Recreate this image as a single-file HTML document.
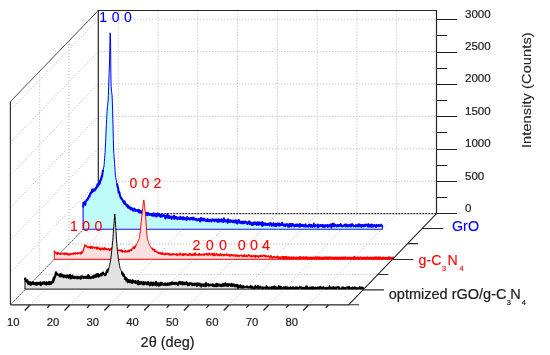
<!DOCTYPE html>
<html><head><meta charset="utf-8"><title>XRD waterfall</title>
<style>html,body{margin:0;padding:0;background:#fff;}body{width:550px;height:355px;overflow:hidden;}svg{display:block;}</style>
</head><body><svg width="550" height="355" viewBox="0 0 550 355"><path d="M118.19 10.6V213.7M157.98 10.6V213.7M197.77 10.6V213.7M237.56 10.6V213.7M277.35 10.6V213.7M317.14 10.6V213.7M356.92 10.6V213.7M396.71 10.6V213.7M98.3 181.27H436.5M98.3 148.84H436.5M98.3 116.41H436.5M98.3 83.98H436.5M98.3 51.55H436.5M98.3 19.12H436.5M69 40.97V244.07M39.7 71.33V274.43M98.3 181.27L10.4 272.37M98.3 148.84L10.4 239.94M98.3 116.41L10.4 207.51M98.3 83.98L10.4 175.08M98.3 51.55L10.4 142.65M98.3 19.12L10.4 110.22M118.19 213.7L30.29 304.8M157.98 213.7L70.08 304.8M197.77 213.7L109.87 304.8M237.56 213.7L149.66 304.8M277.35 213.7L189.45 304.8M317.14 213.7L229.24 304.8M356.92 213.7L269.02 304.8M396.71 213.7L308.81 304.8M69 244.07H407.2M39.7 274.43H377.9" fill="none" stroke="#b4b4b4" stroke-width="1" stroke-dasharray="1 2"/><path d="M98.3 213.7H436.5" stroke="#2e2e2e" stroke-width="1.3" stroke-dasharray="2 1" fill="none"/><path d="M98.3 213.7V10.5H436.5V213.7" fill="none" stroke="#262626" stroke-width="1.2"/><path d="M98.3 10.5L10.4 101.6" fill="none" stroke="#484848" stroke-width="1.0"/><path d="M10.4 101.6V304.8" fill="none" stroke="#333" stroke-width="1.2"/><path d="M98.3 213.7L10.4 304.8" fill="none" stroke="#555" stroke-width="1" stroke-dasharray="2.2 0.8"/><path d="M83.1 229.2 L83.1 206.63 83.35 202.88 83.6 204.8 83.85 203.76 84.1 203.54 84.35 203.41 84.6 201.76 84.85 202.79 85.1 202.01 85.35 204.85 85.6 202.22 85.85 201.48 86.1 201.23 86.35 200.61 86.6 199.85 86.85 199.89 87.1 200.08 87.35 199.08 87.6 199.51 87.85 198.18 88.1 197.89 88.35 198.56 88.6 197.35 88.85 196.1 89.1 195.88 89.35 195.96 89.6 196.54 89.85 194.43 90.1 193.98 90.35 194.45 90.6 192.58 90.85 192.56 91.1 193.08 91.35 192.64 91.6 192.07 91.85 192.3 92.1 189.47 92.35 192.15 92.6 190.45 92.85 189.71 93.1 190.96 93.35 191.08 93.6 190.01 93.85 189.33 94.1 189.95 94.35 189.68 94.6 190.57 94.85 189.87 95.1 189.24 95.35 189.72 95.6 188.53 95.85 187.7 96.1 188.49 96.35 188.14 96.6 187.2 96.85 186.43 97.1 186.85 97.35 184.46 97.6 186.51 97.85 186.01 98.1 184.07 98.35 185 98.6 183.89 98.85 184.84 99.1 182.4 99.35 182.9 99.6 183.77 99.85 183.5 100.1 180.25 100.35 180.72 100.6 180.57 100.85 179.09 101.1 179.97 101.35 177.11 101.6 177.5 101.85 175.68 102.1 176.55 102.35 174.23 102.6 172.72 102.85 170.46 103.1 170.84 103.35 169.4 103.6 168.15 103.85 166.98 104.1 164.84 104.35 161.56 104.6 158.46 104.85 155.38 105.1 152.74 105.35 148.46 105.6 142.38 105.85 136.19 106.1 130.04 106.35 124.27 106.6 119.65 106.85 115.3 107.1 111.4 107.35 107.8 107.6 105.48 107.85 103.15 108.1 100.83 108.35 95.56 108.6 87.95 108.85 81 109.1 73.73 109.35 66.97 109.6 59.98 109.85 45.11 110.1 32.84 110.35 33.89 110.6 42.3 110.85 72.8 111.1 86.44 111.35 89.09 111.6 91.34 111.85 93.88 112.1 95.62 112.35 102.11 112.6 110.21 112.85 119.74 113.1 129.8 113.35 139.84 113.6 150.01 113.85 153.46 114.1 157.08 114.35 159.96 114.6 163.49 114.85 166.86 115.1 171.35 115.35 175.32 115.6 177.32 115.85 178.13 116.1 179.61 116.35 180.79 116.6 182.56 116.85 183.64 117.1 184.3 117.35 185.22 117.6 186.95 117.85 187.09 118.1 187.95 118.35 190.03 118.6 192.55 118.85 191.34 119.1 191.94 119.35 192.31 119.6 193.02 119.85 195.24 120.1 196.32 120.35 196.51 120.6 197.59 120.85 198.16 121.1 198.52 121.35 197.61 121.6 198.76 121.85 199.53 122.1 199.21 122.35 199.78 122.6 199.87 122.85 200.58 123.1 201.81 123.35 201.21 123.6 201.75 123.85 202.74 124.1 202.84 124.35 203.85 124.6 201.24 124.85 203.67 125.1 202.89 125.35 203.58 125.6 204.33 125.85 204.74 126.1 204.93 126.35 204.49 126.6 205.8 126.85 204.61 127.1 204.94 127.35 205.87 127.6 205.08 127.85 207.33 128.1 206.7 128.35 207.79 128.6 206.36 128.85 206.32 129.1 206.96 129.35 207.61 129.6 206.84 129.85 207.79 130.1 207.71 130.35 209.16 130.6 207.68 130.85 209.18 131.1 208.14 131.35 208.1 131.6 208.38 131.85 208.11 132.1 209.2 132.35 209.95 132.6 209.39 132.85 209.83 133.1 210.67 133.35 209.74 133.6 209.77 133.85 209.51 134.1 208.6 134.35 210.47 134.6 208.67 134.85 210.57 135.1 210.16 135.35 211.1 135.6 210.3 135.85 209.82 136.1 210.79 136.35 210.2 136.6 210.57 136.85 210.83 137.1 210.79 137.35 210.83 137.6 210.44 137.85 211.01 138.1 209.64 138.35 211.22 138.6 210.53 138.85 212.36 139.1 212.56 139.35 210.23 139.6 211.89 139.85 211.78 140.1 211.18 140.35 212.45 140.6 211.8 140.85 210.91 141.1 212.12 141.35 212.3 141.6 212.58 141.85 211.67 142.1 213.15 142.35 213.33 142.6 212 142.85 212.43 143.1 212.9 143.35 212.58 143.6 214.35 143.85 213.23 144.1 212.36 144.35 212.56 144.6 213.15 144.85 214.95 145.1 213.13 145.35 213.4 145.6 213.73 145.85 213.35 146.1 215.13 146.35 213.06 146.6 214.06 146.85 213.66 147.1 214.04 147.35 212.73 147.6 214.98 147.85 213.6 148.1 213.75 148.35 213.07 148.6 213.26 148.85 214.27 149.1 214.62 149.35 214.48 149.6 214.87 149.85 214.53 150.1 214.06 150.35 214.7 150.6 214.56 150.85 214.07 151.1 214.73 151.35 215.19 151.6 214.44 151.85 214.04 152.1 214.88 152.35 215.81 152.6 214.26 152.85 214.39 153.1 214.39 153.35 215.45 153.6 213.19 153.85 214.88 154.1 215.54 154.35 214.08 154.6 215.84 154.85 215.16 155.1 214.39 155.35 214.99 155.6 213.73 155.85 214.49 156.1 216.33 156.35 214.32 156.6 216.42 156.85 215.01 157.1 215.85 157.35 215.18 157.6 213.5 157.85 214.79 158.1 215.4 158.35 214.44 158.6 214.33 158.85 215.65 159.1 214.93 159.35 214.18 159.6 214.97 159.85 216.17 160.1 215.2 160.35 216.3 160.6 216.78 160.85 215.69 161.1 214.86 161.35 214.77 161.6 215.76 161.85 216.48 162.1 216.05 162.35 216.3 162.6 215.59 162.85 216.19 163.1 215.64 163.35 215.79 163.6 215.1 163.85 214.93 164.1 215.78 164.35 215.35 164.6 215.5 164.85 216.75 165.1 216.21 165.35 218.51 165.6 217.05 165.85 215.92 166.1 217.02 166.35 216.74 166.6 215.99 166.85 217.37 167.1 216 167.35 214.32 167.6 217.25 167.85 216.22 168.1 217.84 168.35 216.27 168.6 215.91 168.85 217.99 169.1 216.06 169.35 217.06 169.6 218.03 169.85 217.06 170.1 216.95 170.35 217.13 170.6 217.72 170.85 216.52 171.1 217.62 171.35 217.63 171.6 218.98 171.85 217.02 172.1 216.62 172.35 217.89 172.6 217.08 172.85 217.63 173.1 217.55 173.35 218.36 173.6 217.03 173.85 217.49 174.1 215.68 174.35 216.97 174.6 218.82 174.85 217.19 175.1 217.22 175.35 216.86 175.6 218.24 175.85 217.95 176.1 216.94 176.35 218.35 176.6 218.06 176.85 218.44 177.1 217.41 177.35 219.21 177.6 218.22 177.85 217.84 178.1 217.55 178.35 217.77 178.6 218.62 178.85 217.78 179.1 218.81 179.35 218.45 179.6 219.04 179.85 218.65 180.1 218.01 180.35 216.64 180.6 218.31 180.85 218.69 181.1 218.23 181.35 218.54 181.6 217.78 181.85 217.86 182.1 217.46 182.35 219.2 182.6 218.31 182.85 217.84 183.1 217.22 183.35 218.12 183.6 219.33 183.85 218.61 184.1 217.73 184.35 219.36 184.6 219.37 184.85 219.05 185.1 218.92 185.35 219.21 185.6 218.76 185.85 218.95 186.1 217.8 186.35 219.52 186.6 218.59 186.85 219.94 187.1 216.91 187.35 218.98 187.6 219.2 187.85 218.22 188.1 218.83 188.35 219.07 188.6 218.96 188.85 218.13 189.1 218.44 189.35 219.33 189.6 219.54 189.85 218.67 190.1 218.67 190.35 218.79 190.6 219.44 190.85 217.9 191.1 217.72 191.35 218.84 191.6 217.94 191.85 218.36 192.1 218.89 192.35 219.21 192.6 218.07 192.85 219.51 193.1 217.6 193.35 219.37 193.6 217.8 193.85 218.06 194.1 219.52 194.35 218.76 194.6 218.5 194.85 218.79 195.1 219.5 195.35 219.13 195.6 219.18 195.85 220.02 196.1 218.72 196.35 218.93 196.6 218.92 196.85 220.21 197.1 220.1 197.35 220.35 197.6 219.39 197.85 219.32 198.1 220.11 198.35 219.2 198.6 220.13 198.85 220.06 199.1 219.01 199.35 219.48 199.6 219.47 199.85 220.87 200.1 221.52 200.35 219.52 200.6 219.61 200.85 217.91 201.1 219.79 201.35 219.63 201.6 218.85 201.85 220.25 202.1 218.5 202.35 219.53 202.6 219.8 202.85 218.77 203.1 220.37 203.35 220.53 203.6 218.71 203.85 218.7 204.1 220.22 204.35 219.76 204.6 218.89 204.85 219.58 205.1 219.74 205.35 219.72 205.6 220.46 205.85 220.14 206.1 221.19 206.35 220.91 206.6 220.4 206.85 220.71 207.1 220.91 207.35 220.45 207.6 219.02 207.85 220.59 208.1 220.01 208.35 221.19 208.6 220.05 208.85 220.39 209.1 220.26 209.35 221.28 209.6 220.16 209.85 219.84 210.1 220.29 210.35 219.74 210.6 220.2 210.85 220.09 211.1 220.31 211.35 221.56 211.6 219.82 211.85 220.17 212.1 220 212.35 220.67 212.6 219.29 212.85 219.67 213.1 220.17 213.35 220.62 213.6 220.19 213.85 219.86 214.1 219.6 214.35 220.64 214.6 221.35 214.85 220.52 215.1 220.43 215.35 220.64 215.6 219.61 215.85 220.09 216.1 220.14 216.35 220.57 216.6 220.34 216.85 219.46 217.1 221.23 217.35 221.67 217.6 220.21 217.85 220.72 218.1 220.64 218.35 221.04 218.6 219.35 218.85 221.68 219.1 220.13 219.35 221.44 219.6 220.57 219.85 220.23 220.1 220.42 220.35 221.21 220.6 219.91 220.85 220.28 221.1 220.22 221.35 219.3 221.6 221.58 221.85 221.05 222.1 220.61 222.35 221.51 222.6 219.93 222.85 220.61 223.1 221.97 223.35 221.42 223.6 219.03 223.85 218.21 224.1 219.94 224.35 221.53 224.6 220.39 224.85 220.59 225.1 221.22 225.35 220.12 225.6 220.95 225.85 221.4 226.1 221.17 226.35 221.12 226.6 220.39 226.85 221.24 227.1 220.54 227.35 221.85 227.6 222.81 227.85 220.34 228.1 219.28 228.35 220.6 228.6 221.22 228.85 221.73 229.1 221.77 229.35 220.38 229.6 220.39 229.85 221.94 230.1 220.19 230.35 221.85 230.6 220.89 230.85 221.66 231.1 221.64 231.35 221.72 231.6 221.78 231.85 220.44 232.1 221.43 232.35 221.25 232.6 221.49 232.85 222.21 233.1 221.11 233.35 220.8 233.6 220.81 233.85 221.15 234.1 221.97 234.35 220.82 234.6 222.33 234.85 221.7 235.1 221.34 235.35 220.54 235.6 221.74 235.85 222.1 236.1 220.29 236.35 222.53 236.6 222.9 236.85 221.94 237.1 222.08 237.35 223.55 237.6 222.68 237.85 221.11 238.1 221.8 238.35 221.72 238.6 221.75 238.85 220.11 239.1 222.48 239.35 221.46 239.6 222.08 239.85 221.88 240.1 222.66 240.35 221.81 240.6 221.46 240.85 222.48 241.1 223.16 241.35 221.9 241.6 223.19 241.85 222.38 242.1 221.81 242.35 223.38 242.6 221.65 242.85 223.05 243.1 221.94 243.35 222.67 243.6 221.43 243.85 221.76 244.1 223.21 244.35 222.58 244.6 222.49 244.85 222.16 245.1 222.84 245.35 221.49 245.6 221.72 245.85 222.47 246.1 221.98 246.35 222.11 246.6 222.61 246.85 222.58 247.1 222.54 247.35 223.98 247.6 223.52 247.85 223.71 248.1 222.79 248.35 222.46 248.6 221.77 248.85 222.62 249.1 221.35 249.35 222.5 249.6 223.53 249.85 224.2 250.1 223.73 250.35 222.39 250.6 223.43 250.85 222.49 251.1 223.73 251.35 223.05 251.6 223.8 251.85 225.11 252.1 223.9 252.35 224.98 252.6 223.39 252.85 223.04 253.1 224.31 253.35 224.63 253.6 222.94 253.85 223.44 254.1 222.33 254.35 223.28 254.6 224.13 254.85 223.42 255.1 223.08 255.35 222.48 255.6 223.84 255.85 224.18 256.1 224.06 256.35 223.83 256.6 222.7 256.85 225.01 257.1 223.67 257.35 223.63 257.6 224.31 257.85 222.16 258.1 223.76 258.35 223.73 258.6 224.14 258.85 224.9 259.1 224.26 259.35 222.56 259.6 223.71 259.85 224.14 260.1 224.11 260.35 223.05 260.6 222.78 260.85 224.45 261.1 224.3 261.35 224.04 261.6 222.77 261.85 225.4 262.1 221.91 262.35 223.82 262.6 225.67 262.85 224 263.1 224.3 263.35 223.25 263.6 225.16 263.85 223.18 264.1 224.35 264.35 224.28 264.6 223.4 264.85 224.86 265.1 223.14 265.35 223.7 265.6 224.2 265.85 223.92 266.1 224.59 266.35 224.95 266.6 224.04 266.85 223.87 267.1 223.9 267.35 224.02 267.6 224.91 267.85 224.15 268.1 224.63 268.35 224.27 268.6 223.71 268.85 225 269.1 223.59 269.35 224.38 269.6 225.5 269.85 223.57 270.1 224.36 270.35 223.23 270.6 224.04 270.85 223.31 271.1 224.17 271.35 224.05 271.6 224.56 271.85 225.66 272.1 224.7 272.35 224.99 272.6 224.47 272.85 224.33 273.1 223.9 273.35 223.18 273.6 224.6 273.85 225.78 274.1 224.92 274.35 224.17 274.6 225.82 274.85 224.27 275.1 224.14 275.35 223.7 275.6 223.9 275.85 224.45 276.1 226.14 276.35 224.5 276.6 223.89 276.85 224.22 277.1 224.52 277.35 223.41 277.6 224.8 277.85 225.24 278.1 224.96 278.35 225.18 278.6 223.78 278.85 223.48 279.1 225.73 279.35 225.59 279.6 223.63 279.85 224.95 280.1 224.82 280.35 225.22 280.6 224.98 280.85 224.46 281.1 224.99 281.35 224.97 281.6 224.83 281.85 223.48 282.1 222.64 282.35 224.3 282.6 223.68 282.85 225.1 283.1 225.46 283.35 225.13 283.6 224.67 283.85 225.01 284.1 225.84 284.35 224.43 284.6 225.68 284.85 225.52 285.1 225.2 285.35 226.1 285.6 224.49 285.85 225.74 286.1 224.35 286.35 224.48 286.6 224.27 286.85 225.41 287.1 224.38 287.35 225.13 287.6 224.25 287.85 225.91 288.1 226.5 288.35 225.3 288.6 226.38 288.85 225.57 289.1 226.79 289.35 225.25 289.6 224.01 289.85 226.31 290.1 225.11 290.35 224.44 290.6 224.73 290.85 224.01 291.1 225.12 291.35 224.45 291.6 226.38 291.85 225.77 292.1 224.04 292.35 224.16 292.6 224.88 292.85 223.87 293.1 225.24 293.35 225.3 293.6 224.76 293.85 224.94 294.1 225.74 294.35 226.44 294.6 226.51 294.85 225.42 295.1 226.05 295.35 224.86 295.6 225.73 295.85 224.71 296.1 225.99 296.35 224.53 296.6 224.74 296.85 225.47 297.1 225.9 297.35 224.42 297.6 225.1 297.85 225.62 298.1 225.7 298.35 224.9 298.6 225.62 298.85 225.35 299.1 226.62 299.35 225.99 299.6 224.59 299.85 223.94 300.1 225.67 300.35 226.49 300.6 225.73 300.85 226.26 301.1 225.24 301.35 224.58 301.6 226.16 301.85 225.67 302.1 226.11 302.35 224.56 302.6 225.74 302.85 225.13 303.1 226.2 303.35 225.16 303.6 225.14 303.85 225.16 304.1 226.55 304.35 225.62 304.6 225.03 304.85 224.83 305.1 224.82 305.35 226.7 305.6 224.24 305.85 224.96 306.1 226.08 306.35 226.48 306.6 225.49 306.85 226.19 307.1 226.17 307.35 226.34 307.6 225.63 307.85 226.84 308.1 225.76 308.35 226.76 308.6 224.79 308.85 226.32 309.1 224.67 309.35 224.49 309.6 225.99 309.85 225 310.1 225.96 310.35 224.82 310.6 226.83 310.85 225.63 311.1 224.78 311.35 225.76 311.6 226.29 311.85 225.05 312.1 226.02 312.35 227.17 312.6 226.29 312.85 225.63 313.1 225.21 313.35 226.07 313.6 224.5 313.85 223.36 314.1 225.14 314.35 224.83 314.6 226.95 314.85 225.75 315.1 224.9 315.35 224.77 315.6 226.02 315.85 225.02 316.1 225.21 316.35 225.58 316.6 225.71 316.85 225.72 317.1 225.73 317.35 226.63 317.6 226.93 317.85 224.41 318.1 227.58 318.35 225.75 318.6 226.59 318.85 225.1 319.1 225.9 319.35 225.82 319.6 225.74 319.85 226.29 320.1 226.13 320.35 224.9 320.6 225.57 320.85 226.2 321.1 226.17 321.35 225.4 321.6 225.45 321.85 225.54 322.1 224.83 322.35 224.69 322.6 226.83 322.85 225.36 323.1 225.73 323.35 225.1 323.6 226.63 323.85 226.97 324.1 225.49 324.35 226.04 324.6 225.09 324.85 226.98 325.1 226.35 325.35 225.03 325.6 226.59 325.85 225.93 326.1 225.97 326.35 225.92 326.6 225.15 326.85 225.25 327.1 226.12 327.35 225.62 327.6 224.94 327.85 227.18 328.1 225.5 328.35 225.23 328.6 225.13 328.85 226.17 329.1 226.38 329.35 225.84 329.6 226.3 329.85 224.53 330.1 225.37 330.35 225.3 330.6 225.65 330.85 226.02 331.1 224.12 331.35 227.99 331.6 225 331.85 225.91 332.1 226.27 332.35 226.28 332.6 225.83 332.85 223.46 333.1 224.83 333.35 226.21 333.6 224.95 333.85 224.85 334.1 223.87 334.35 226.55 334.6 226.02 334.85 224.96 335.1 225.53 335.35 225.55 335.6 224.79 335.85 225.42 336.1 225.82 336.35 226.04 336.6 226.57 336.85 225.64 337.1 225.27 337.35 225.92 337.6 225.15 337.85 224.68 338.1 226.47 338.35 225.33 338.6 225.71 338.85 226.1 339.1 224.78 339.35 226.1 339.6 225.95 339.85 225.54 340.1 225.91 340.35 225.05 340.6 223.96 340.85 225.4 341.1 224.93 341.35 226.27 341.6 225.81 341.85 225.22 342.1 225.65 342.35 226.63 342.6 226.46 342.85 225.89 343.1 225.94 343.35 225.4 343.6 225.52 343.85 226.06 344.1 225.52 344.35 225.84 344.6 224.78 344.85 224.36 345.1 224.34 345.35 225.28 345.6 226.61 345.85 226.5 346.1 224.86 346.35 224.44 346.6 226.21 346.85 225.96 347.1 224.59 347.35 226.41 347.6 225.74 347.85 226.6 348.1 225.87 348.35 226.28 348.6 225.85 348.85 224.9 349.1 225.44 349.35 225.1 349.6 226.23 349.85 224.86 350.1 224.46 350.35 226.12 350.6 226.47 350.85 226.69 351.1 226.43 351.35 224.48 351.6 225.09 351.85 225.2 352.1 225.59 352.35 223.99 352.6 225.6 352.85 225.82 353.1 224.9 353.35 225.7 353.6 226.5 353.85 225.64 354.1 226.4 354.35 226.37 354.6 225.92 354.85 225.9 355.1 225.33 355.35 226.54 355.6 225.26 355.85 225.09 356.1 226.14 356.35 225.06 356.6 225.93 356.85 226.4 357.1 225.67 357.35 225.69 357.6 226.3 357.85 226.17 358.1 224.45 358.35 224.63 358.6 226.61 358.85 225.9 359.1 224.05 359.35 224.6 359.6 225.63 359.85 224.88 360.1 225.96 360.35 225.67 360.6 225.98 360.85 224.74 361.1 226.08 361.35 227.08 361.6 225.02 361.85 226.6 362.1 226.35 362.35 226.1 362.6 225.57 362.85 224.74 363.1 224.96 363.35 226.19 363.6 226.35 363.85 226.53 364.1 226.34 364.35 226.29 364.6 225.29 364.85 224.71 365.1 225.77 365.35 225.99 365.6 225.68 365.85 224.48 366.1 225.23 366.35 224.51 366.6 225.73 366.85 224.83 367.1 225.49 367.35 225.86 367.6 225.72 367.85 226.65 368.1 224.79 368.35 223.98 368.6 226.33 368.85 226.67 369.1 226.69 369.35 225.83 369.6 226.03 369.85 225.71 370.1 224.65 370.35 225.19 370.6 225.99 370.85 225.19 371.1 227.05 371.35 224.47 371.6 225.3 371.85 226.46 372.1 225.17 372.35 224.77 372.6 224.6 372.85 225.08 373.1 226.76 373.35 225.93 373.6 226.01 373.85 225.23 374.1 226.26 374.35 225.7 374.6 224.93 374.85 225.29 375.1 225.78 375.35 226.5 375.6 225.58 375.85 226 376.1 227.14 376.35 225.03 376.6 224.69 376.85 226.36 377.1 225.95 377.35 225.55 377.6 225.82 377.85 225.38 378.1 226.01 378.35 225.37 378.6 226.23 378.85 224.75 379.1 225.01 379.35 225.71 379.6 225.27 379.85 226.15 380.1 225.6 380.35 225.22 380.6 225.78 380.85 225.23 381.1 224.46 381.35 224.78 381.6 225.03 381.85 225.28 382.1 225.7 382.35 226.31 L382.35 229.2Z" fill="#bffcf9" stroke="none"/><path d="M83.1 206.63V229.2H382.35V226.31" fill="none" stroke="#1515ff" stroke-width="1.1"/><path d="M83.1 206.63 83.35 202.88 83.6 204.8 83.85 203.76 84.1 203.54 84.35 203.41 84.6 201.76 84.85 202.79 85.1 202.01 85.35 204.85 85.6 202.22 85.85 201.48 86.1 201.23 86.35 200.61 86.6 199.85 86.85 199.89 87.1 200.08 87.35 199.08 87.6 199.51 87.85 198.18 88.1 197.89 88.35 198.56 88.6 197.35 88.85 196.1 89.1 195.88 89.35 195.96 89.6 196.54 89.85 194.43 90.1 193.98 90.35 194.45 90.6 192.58 90.85 192.56 91.1 193.08 91.35 192.64 91.6 192.07 91.85 192.3 92.1 189.47 92.35 192.15 92.6 190.45 92.85 189.71 93.1 190.96 93.35 191.08 93.6 190.01 93.85 189.33 94.1 189.95 94.35 189.68 94.6 190.57 94.85 189.87 95.1 189.24 95.35 189.72 95.6 188.53 95.85 187.7 96.1 188.49 96.35 188.14 96.6 187.2 96.85 186.43 97.1 186.85 97.35 184.46 97.6 186.51 97.85 186.01 98.1 184.07 98.35 185 98.6 183.89 98.85 184.84 99.1 182.4 99.35 182.9 99.6 183.77 99.85 183.5 100.1 180.25 100.35 180.72 100.6 180.57 100.85 179.09 101.1 179.97 101.35 177.11 101.6 177.5 101.85 175.68 102.1 176.55 102.35 174.23 102.6 172.72 102.85 170.46 103.1 170.84" fill="none" stroke="#0000ff" stroke-width="2.0" stroke-linejoin="round" stroke-linecap="round"/><path d="M103.1 170.84 103.35 169.4 103.6 168.15 103.85 166.98 104.1 164.84 104.35 161.56 104.6 158.46 104.85 155.38 105.1 152.74 105.35 148.46 105.6 142.38 105.85 136.19 106.1 130.04 106.35 124.27 106.6 119.65 106.85 115.3 107.1 111.4 107.35 107.8 107.6 105.48 107.85 103.15 108.1 100.83 108.35 95.56 108.6 87.95 108.85 81 109.1 73.73 109.35 66.97 109.6 59.98 109.85 45.11 110.1 32.84 110.35 33.89 110.6 42.3 110.85 72.8 111.1 86.44 111.35 89.09 111.6 91.34 111.85 93.88 112.1 95.62 112.35 102.11 112.6 110.21 112.85 119.74 113.1 129.8 113.35 139.84 113.6 150.01 113.85 153.46 114.1 157.08 114.35 159.96 114.6 163.49 114.85 166.86 115.1 171.35 115.35 175.32 115.6 177.32 115.85 178.13 116.1 179.61 116.35 180.79 116.6 182.56 116.85 183.64 117.1 184.3" fill="none" stroke="#0000ff" stroke-width="1.0" stroke-linejoin="round" stroke-linecap="round"/><path d="M117.1 184.3 117.35 185.22 117.6 186.95 117.85 187.09 118.1 187.95 118.35 190.03 118.6 192.55 118.85 191.34 119.1 191.94 119.35 192.31 119.6 193.02 119.85 195.24 120.1 196.32 120.35 196.51 120.6 197.59 120.85 198.16 121.1 198.52 121.35 197.61 121.6 198.76 121.85 199.53 122.1 199.21 122.35 199.78 122.6 199.87 122.85 200.58 123.1 201.81 123.35 201.21 123.6 201.75 123.85 202.74 124.1 202.84 124.35 203.85 124.6 201.24 124.85 203.67 125.1 202.89 125.35 203.58 125.6 204.33 125.85 204.74 126.1 204.93 126.35 204.49 126.6 205.8 126.85 204.61 127.1 204.94 127.35 205.87 127.6 205.08 127.85 207.33 128.1 206.7 128.35 207.79 128.6 206.36 128.85 206.32 129.1 206.96 129.35 207.61 129.6 206.84 129.85 207.79 130.1 207.71 130.35 209.16 130.6 207.68 130.85 209.18 131.1 208.14 131.35 208.1 131.6 208.38 131.85 208.11 132.1 209.2 132.35 209.95 132.6 209.39 132.85 209.83 133.1 210.67 133.35 209.74 133.6 209.77 133.85 209.51 134.1 208.6 134.35 210.47 134.6 208.67 134.85 210.57 135.1 210.16 135.35 211.1 135.6 210.3 135.85 209.82 136.1 210.79 136.35 210.2 136.6 210.57 136.85 210.83 137.1 210.79 137.35 210.83 137.6 210.44 137.85 211.01 138.1 209.64 138.35 211.22 138.6 210.53 138.85 212.36 139.1 212.56 139.35 210.23 139.6 211.89 139.85 211.78 140.1 211.18 140.35 212.45 140.6 211.8 140.85 210.91 141.1 212.12 141.35 212.3 141.6 212.58 141.85 211.67 142.1 213.15 142.35 213.33 142.6 212 142.85 212.43 143.1 212.9 143.35 212.58 143.6 214.35 143.85 213.23 144.1 212.36 144.35 212.56 144.6 213.15 144.85 214.95 145.1 213.13 145.35 213.4 145.6 213.73 145.85 213.35 146.1 215.13 146.35 213.06 146.6 214.06 146.85 213.66 147.1 214.04 147.35 212.73 147.6 214.98 147.85 213.6 148.1 213.75 148.35 213.07 148.6 213.26 148.85 214.27 149.1 214.62 149.35 214.48 149.6 214.87 149.85 214.53 150.1 214.06 150.35 214.7 150.6 214.56 150.85 214.07 151.1 214.73 151.35 215.19 151.6 214.44 151.85 214.04 152.1 214.88 152.35 215.81 152.6 214.26 152.85 214.39 153.1 214.39 153.35 215.45 153.6 213.19 153.85 214.88 154.1 215.54 154.35 214.08 154.6 215.84 154.85 215.16 155.1 214.39 155.35 214.99 155.6 213.73 155.85 214.49 156.1 216.33 156.35 214.32 156.6 216.42 156.85 215.01 157.1 215.85 157.35 215.18 157.6 213.5 157.85 214.79 158.1 215.4 158.35 214.44 158.6 214.33 158.85 215.65 159.1 214.93 159.35 214.18 159.6 214.97 159.85 216.17 160.1 215.2 160.35 216.3 160.6 216.78 160.85 215.69 161.1 214.86 161.35 214.77 161.6 215.76 161.85 216.48 162.1 216.05 162.35 216.3 162.6 215.59 162.85 216.19 163.1 215.64 163.35 215.79 163.6 215.1 163.85 214.93 164.1 215.78 164.35 215.35 164.6 215.5 164.85 216.75 165.1 216.21 165.35 218.51 165.6 217.05 165.85 215.92 166.1 217.02 166.35 216.74 166.6 215.99 166.85 217.37 167.1 216 167.35 214.32 167.6 217.25 167.85 216.22 168.1 217.84 168.35 216.27 168.6 215.91 168.85 217.99 169.1 216.06 169.35 217.06 169.6 218.03 169.85 217.06 170.1 216.95 170.35 217.13 170.6 217.72 170.85 216.52 171.1 217.62 171.35 217.63 171.6 218.98 171.85 217.02 172.1 216.62 172.35 217.89 172.6 217.08 172.85 217.63 173.1 217.55 173.35 218.36 173.6 217.03 173.85 217.49 174.1 215.68 174.35 216.97 174.6 218.82 174.85 217.19 175.1 217.22 175.35 216.86 175.6 218.24 175.85 217.95 176.1 216.94 176.35 218.35 176.6 218.06 176.85 218.44 177.1 217.41 177.35 219.21 177.6 218.22 177.85 217.84 178.1 217.55 178.35 217.77 178.6 218.62 178.85 217.78 179.1 218.81 179.35 218.45 179.6 219.04 179.85 218.65 180.1 218.01 180.35 216.64 180.6 218.31 180.85 218.69 181.1 218.23 181.35 218.54 181.6 217.78 181.85 217.86 182.1 217.46 182.35 219.2 182.6 218.31 182.85 217.84 183.1 217.22 183.35 218.12 183.6 219.33 183.85 218.61 184.1 217.73 184.35 219.36 184.6 219.37 184.85 219.05 185.1 218.92 185.35 219.21 185.6 218.76 185.85 218.95 186.1 217.8 186.35 219.52 186.6 218.59 186.85 219.94 187.1 216.91 187.35 218.98 187.6 219.2 187.85 218.22 188.1 218.83 188.35 219.07 188.6 218.96 188.85 218.13 189.1 218.44 189.35 219.33 189.6 219.54 189.85 218.67 190.1 218.67 190.35 218.79 190.6 219.44 190.85 217.9 191.1 217.72 191.35 218.84 191.6 217.94 191.85 218.36 192.1 218.89 192.35 219.21 192.6 218.07 192.85 219.51 193.1 217.6 193.35 219.37 193.6 217.8 193.85 218.06 194.1 219.52 194.35 218.76 194.6 218.5 194.85 218.79 195.1 219.5 195.35 219.13 195.6 219.18 195.85 220.02 196.1 218.72 196.35 218.93 196.6 218.92 196.85 220.21 197.1 220.1 197.35 220.35 197.6 219.39 197.85 219.32 198.1 220.11 198.35 219.2 198.6 220.13 198.85 220.06 199.1 219.01 199.35 219.48 199.6 219.47 199.85 220.87 200.1 221.52 200.35 219.52 200.6 219.61 200.85 217.91 201.1 219.79 201.35 219.63 201.6 218.85 201.85 220.25 202.1 218.5 202.35 219.53 202.6 219.8 202.85 218.77 203.1 220.37 203.35 220.53 203.6 218.71 203.85 218.7 204.1 220.22 204.35 219.76 204.6 218.89 204.85 219.58 205.1 219.74 205.35 219.72 205.6 220.46 205.85 220.14 206.1 221.19 206.35 220.91 206.6 220.4 206.85 220.71 207.1 220.91 207.35 220.45 207.6 219.02 207.85 220.59 208.1 220.01 208.35 221.19 208.6 220.05 208.85 220.39 209.1 220.26 209.35 221.28 209.6 220.16 209.85 219.84 210.1 220.29 210.35 219.74 210.6 220.2 210.85 220.09 211.1 220.31 211.35 221.56 211.6 219.82 211.85 220.17 212.1 220 212.35 220.67 212.6 219.29 212.85 219.67 213.1 220.17 213.35 220.62 213.6 220.19 213.85 219.86 214.1 219.6 214.35 220.64 214.6 221.35 214.85 220.52 215.1 220.43 215.35 220.64 215.6 219.61 215.85 220.09 216.1 220.14 216.35 220.57 216.6 220.34 216.85 219.46 217.1 221.23 217.35 221.67 217.6 220.21 217.85 220.72 218.1 220.64 218.35 221.04 218.6 219.35 218.85 221.68 219.1 220.13 219.35 221.44 219.6 220.57 219.85 220.23 220.1 220.42 220.35 221.21 220.6 219.91 220.85 220.28 221.1 220.22 221.35 219.3 221.6 221.58 221.85 221.05 222.1 220.61 222.35 221.51 222.6 219.93 222.85 220.61 223.1 221.97 223.35 221.42 223.6 219.03 223.85 218.21 224.1 219.94 224.35 221.53 224.6 220.39 224.85 220.59 225.1 221.22 225.35 220.12 225.6 220.95 225.85 221.4 226.1 221.17 226.35 221.12 226.6 220.39 226.85 221.24 227.1 220.54 227.35 221.85 227.6 222.81 227.85 220.34 228.1 219.28 228.35 220.6 228.6 221.22 228.85 221.73 229.1 221.77 229.35 220.38 229.6 220.39 229.85 221.94 230.1 220.19 230.35 221.85 230.6 220.89 230.85 221.66 231.1 221.64 231.35 221.72 231.6 221.78 231.85 220.44 232.1 221.43 232.35 221.25 232.6 221.49 232.85 222.21 233.1 221.11 233.35 220.8 233.6 220.81 233.85 221.15 234.1 221.97 234.35 220.82 234.6 222.33 234.85 221.7 235.1 221.34 235.35 220.54 235.6 221.74 235.85 222.1 236.1 220.29 236.35 222.53 236.6 222.9 236.85 221.94 237.1 222.08 237.35 223.55 237.6 222.68 237.85 221.11 238.1 221.8 238.35 221.72 238.6 221.75 238.85 220.11 239.1 222.48 239.35 221.46 239.6 222.08 239.85 221.88 240.1 222.66 240.35 221.81 240.6 221.46 240.85 222.48 241.1 223.16 241.35 221.9 241.6 223.19 241.85 222.38 242.1 221.81 242.35 223.38 242.6 221.65 242.85 223.05 243.1 221.94 243.35 222.67 243.6 221.43 243.85 221.76 244.1 223.21 244.35 222.58 244.6 222.49 244.85 222.16 245.1 222.84 245.35 221.49 245.6 221.72 245.85 222.47 246.1 221.98 246.35 222.11 246.6 222.61 246.85 222.58 247.1 222.54 247.35 223.98 247.6 223.52 247.85 223.71 248.1 222.79 248.35 222.46 248.6 221.77 248.85 222.62 249.1 221.35 249.35 222.5 249.6 223.53 249.85 224.2 250.1 223.73 250.35 222.39 250.6 223.43 250.85 222.49 251.1 223.73 251.35 223.05 251.6 223.8 251.85 225.11 252.1 223.9 252.35 224.98 252.6 223.39 252.85 223.04 253.1 224.31 253.35 224.63 253.6 222.94 253.85 223.44 254.1 222.33 254.35 223.28 254.6 224.13 254.85 223.42 255.1 223.08 255.35 222.48 255.6 223.84 255.85 224.18 256.1 224.06 256.35 223.83 256.6 222.7 256.85 225.01 257.1 223.67 257.35 223.63 257.6 224.31 257.85 222.16 258.1 223.76 258.35 223.73 258.6 224.14 258.85 224.9 259.1 224.26 259.35 222.56 259.6 223.71 259.85 224.14 260.1 224.11 260.35 223.05 260.6 222.78 260.85 224.45 261.1 224.3 261.35 224.04 261.6 222.77 261.85 225.4 262.1 221.91 262.35 223.82 262.6 225.67 262.85 224 263.1 224.3 263.35 223.25 263.6 225.16 263.85 223.18 264.1 224.35 264.35 224.28 264.6 223.4 264.85 224.86 265.1 223.14 265.35 223.7 265.6 224.2 265.85 223.92 266.1 224.59 266.35 224.95 266.6 224.04 266.85 223.87 267.1 223.9 267.35 224.02 267.6 224.91 267.85 224.15 268.1 224.63 268.35 224.27 268.6 223.71 268.85 225 269.1 223.59 269.35 224.38 269.6 225.5 269.85 223.57 270.1 224.36 270.35 223.23 270.6 224.04 270.85 223.31 271.1 224.17 271.35 224.05 271.6 224.56 271.85 225.66 272.1 224.7 272.35 224.99 272.6 224.47 272.85 224.33 273.1 223.9 273.35 223.18 273.6 224.6 273.85 225.78 274.1 224.92 274.35 224.17 274.6 225.82 274.85 224.27 275.1 224.14 275.35 223.7 275.6 223.9 275.85 224.45 276.1 226.14 276.35 224.5 276.6 223.89 276.85 224.22 277.1 224.52 277.35 223.41 277.6 224.8 277.85 225.24 278.1 224.96 278.35 225.18 278.6 223.78 278.85 223.48 279.1 225.73 279.35 225.59 279.6 223.63 279.85 224.95 280.1 224.82 280.35 225.22 280.6 224.98 280.85 224.46 281.1 224.99 281.35 224.97 281.6 224.83 281.85 223.48 282.1 222.64 282.35 224.3 282.6 223.68 282.85 225.1 283.1 225.46 283.35 225.13 283.6 224.67 283.85 225.01 284.1 225.84 284.35 224.43 284.6 225.68 284.85 225.52 285.1 225.2 285.35 226.1 285.6 224.49 285.85 225.74 286.1 224.35 286.35 224.48 286.6 224.27 286.85 225.41 287.1 224.38 287.35 225.13 287.6 224.25 287.85 225.91 288.1 226.5 288.35 225.3 288.6 226.38 288.85 225.57 289.1 226.79 289.35 225.25 289.6 224.01 289.85 226.31 290.1 225.11 290.35 224.44 290.6 224.73 290.85 224.01 291.1 225.12 291.35 224.45 291.6 226.38 291.85 225.77 292.1 224.04 292.35 224.16 292.6 224.88 292.85 223.87 293.1 225.24 293.35 225.3 293.6 224.76 293.85 224.94 294.1 225.74 294.35 226.44 294.6 226.51 294.85 225.42 295.1 226.05 295.35 224.86 295.6 225.73 295.85 224.71 296.1 225.99 296.35 224.53 296.6 224.74 296.85 225.47 297.1 225.9 297.35 224.42 297.6 225.1 297.85 225.62 298.1 225.7 298.35 224.9 298.6 225.62 298.85 225.35 299.1 226.62 299.35 225.99 299.6 224.59 299.85 223.94 300.1 225.67" fill="none" stroke="#0000ff" stroke-width="2.0" stroke-linejoin="round" stroke-linecap="round"/><path d="M300.1 225.67 300.35 226.49 300.6 225.73 300.85 226.26 301.1 225.24 301.35 224.58 301.6 226.16 301.85 225.67 302.1 226.11 302.35 224.56 302.6 225.74 302.85 225.13 303.1 226.2 303.35 225.16 303.6 225.14 303.85 225.16 304.1 226.55 304.35 225.62 304.6 225.03 304.85 224.83 305.1 224.82 305.35 226.7 305.6 224.24 305.85 224.96 306.1 226.08 306.35 226.48 306.6 225.49 306.85 226.19 307.1 226.17 307.35 226.34 307.6 225.63 307.85 226.84 308.1 225.76 308.35 226.76 308.6 224.79 308.85 226.32 309.1 224.67 309.35 224.49 309.6 225.99 309.85 225 310.1 225.96 310.35 224.82 310.6 226.83 310.85 225.63 311.1 224.78 311.35 225.76 311.6 226.29 311.85 225.05 312.1 226.02 312.35 227.17 312.6 226.29 312.85 225.63 313.1 225.21 313.35 226.07 313.6 224.5 313.85 223.36 314.1 225.14 314.35 224.83 314.6 226.95 314.85 225.75 315.1 224.9 315.35 224.77 315.6 226.02 315.85 225.02 316.1 225.21 316.35 225.58 316.6 225.71 316.85 225.72 317.1 225.73 317.35 226.63 317.6 226.93 317.85 224.41 318.1 227.58 318.35 225.75 318.6 226.59 318.85 225.1 319.1 225.9 319.35 225.82 319.6 225.74 319.85 226.29 320.1 226.13 320.35 224.9 320.6 225.57 320.85 226.2 321.1 226.17 321.35 225.4 321.6 225.45 321.85 225.54 322.1 224.83 322.35 224.69 322.6 226.83 322.85 225.36 323.1 225.73 323.35 225.1 323.6 226.63 323.85 226.97 324.1 225.49 324.35 226.04 324.6 225.09 324.85 226.98 325.1 226.35 325.35 225.03 325.6 226.59 325.85 225.93 326.1 225.97 326.35 225.92 326.6 225.15 326.85 225.25 327.1 226.12 327.35 225.62 327.6 224.94 327.85 227.18 328.1 225.5 328.35 225.23 328.6 225.13 328.85 226.17 329.1 226.38 329.35 225.84 329.6 226.3 329.85 224.53 330.1 225.37 330.35 225.3 330.6 225.65 330.85 226.02 331.1 224.12 331.35 227.99 331.6 225 331.85 225.91 332.1 226.27 332.35 226.28 332.6 225.83 332.85 223.46 333.1 224.83 333.35 226.21 333.6 224.95 333.85 224.85 334.1 223.87 334.35 226.55 334.6 226.02 334.85 224.96 335.1 225.53 335.35 225.55 335.6 224.79 335.85 225.42 336.1 225.82 336.35 226.04 336.6 226.57 336.85 225.64 337.1 225.27 337.35 225.92 337.6 225.15 337.85 224.68 338.1 226.47 338.35 225.33 338.6 225.71 338.85 226.1 339.1 224.78 339.35 226.1 339.6 225.95 339.85 225.54 340.1 225.91 340.35 225.05 340.6 223.96 340.85 225.4 341.1 224.93 341.35 226.27 341.6 225.81 341.85 225.22 342.1 225.65 342.35 226.63 342.6 226.46 342.85 225.89 343.1 225.94 343.35 225.4 343.6 225.52 343.85 226.06 344.1 225.52 344.35 225.84 344.6 224.78 344.85 224.36 345.1 224.34 345.35 225.28 345.6 226.61 345.85 226.5 346.1 224.86 346.35 224.44 346.6 226.21 346.85 225.96 347.1 224.59 347.35 226.41 347.6 225.74 347.85 226.6 348.1 225.87 348.35 226.28 348.6 225.85 348.85 224.9 349.1 225.44 349.35 225.1 349.6 226.23 349.85 224.86 350.1 224.46 350.35 226.12 350.6 226.47 350.85 226.69 351.1 226.43 351.35 224.48 351.6 225.09 351.85 225.2 352.1 225.59 352.35 223.99 352.6 225.6 352.85 225.82 353.1 224.9 353.35 225.7 353.6 226.5 353.85 225.64 354.1 226.4 354.35 226.37 354.6 225.92 354.85 225.9 355.1 225.33 355.35 226.54 355.6 225.26 355.85 225.09 356.1 226.14 356.35 225.06 356.6 225.93 356.85 226.4 357.1 225.67 357.35 225.69 357.6 226.3 357.85 226.17 358.1 224.45 358.35 224.63 358.6 226.61 358.85 225.9 359.1 224.05 359.35 224.6 359.6 225.63 359.85 224.88 360.1 225.96 360.35 225.67 360.6 225.98 360.85 224.74 361.1 226.08 361.35 227.08 361.6 225.02 361.85 226.6 362.1 226.35 362.35 226.1 362.6 225.57 362.85 224.74 363.1 224.96 363.35 226.19 363.6 226.35 363.85 226.53 364.1 226.34 364.35 226.29 364.6 225.29 364.85 224.71 365.1 225.77 365.35 225.99 365.6 225.68 365.85 224.48 366.1 225.23 366.35 224.51 366.6 225.73 366.85 224.83 367.1 225.49 367.35 225.86 367.6 225.72 367.85 226.65 368.1 224.79 368.35 223.98 368.6 226.33 368.85 226.67 369.1 226.69 369.35 225.83 369.6 226.03 369.85 225.71 370.1 224.65 370.35 225.19 370.6 225.99 370.85 225.19 371.1 227.05 371.35 224.47 371.6 225.3 371.85 226.46 372.1 225.17 372.35 224.77 372.6 224.6 372.85 225.08 373.1 226.76 373.35 225.93 373.6 226.01 373.85 225.23 374.1 226.26 374.35 225.7 374.6 224.93 374.85 225.29 375.1 225.78 375.35 226.5 375.6 225.58 375.85 226 376.1 227.14 376.35 225.03 376.6 224.69 376.85 226.36 377.1 225.95 377.35 225.55 377.6 225.82 377.85 225.38 378.1 226.01 378.35 225.37 378.6 226.23 378.85 224.75 379.1 225.01 379.35 225.71 379.6 225.27 379.85 226.15 380.1 225.6 380.35 225.22 380.6 225.78 380.85 225.23 381.1 224.46 381.35 224.78 381.6 225.03 381.85 225.28 382.1 225.7 382.35 226.31" fill="none" stroke="#0000ff" stroke-width="1.75" stroke-linejoin="round" stroke-linecap="round"/><path d="M54.4 259.4 L54.4 251.06 54.65 251.01 54.9 251.83 55.15 252.43 55.4 253.06 55.65 252.73 55.9 252.6 56.15 252.61 56.4 253.51 56.65 254.06 56.9 253.38 57.15 252.61 57.4 252.82 57.65 254.29 57.9 253.59 58.15 252.58 58.4 253.55 58.65 253.02 58.9 253.38 59.15 253.52 59.4 253.46 59.65 254.22 59.9 253.94 60.15 253.68 60.4 254.23 60.65 254.46 60.9 253.1 61.15 253.86 61.4 253.46 61.65 253.9 61.9 253.29 62.15 254.01 62.4 253.98 62.65 253.83 62.9 253.42 63.15 253.78 63.4 253.4 63.65 253.25 63.9 254.12 64.15 253.39 64.4 254.64 64.65 254.39 64.9 252.9 65.15 254.15 65.4 253.39 65.65 254.02 65.9 254.02 66.15 252.91 66.4 253.87 66.65 253.86 66.9 254.53 67.15 253.35 67.4 254.41 67.65 253.4 67.9 253.82 68.15 253.54 68.4 254.8 68.65 254.31 68.9 255.34 69.15 254.35 69.4 254.46 69.65 254.46 69.9 253.67 70.15 253.95 70.4 254.71 70.65 253.73 70.9 254.03 71.15 253.9 71.4 254.22 71.65 253.67 71.9 253.76 72.15 253.96 72.4 253.86 72.65 253.31 72.9 254.26 73.15 253.03 73.4 253.07 73.65 253 73.9 254.22 74.15 253.47 74.4 253.11 74.65 253 74.9 253.84 75.15 253.01 75.4 252.87 75.65 253.89 75.9 252.87 76.15 253.33 76.4 253.48 76.65 253.22 76.9 253.42 77.15 254.16 77.4 253.12 77.65 252.7 77.9 252.36 78.15 253.24 78.4 253.13 78.65 253.45 78.9 253.03 79.15 253 79.4 252.85 79.65 252.94 79.9 253.3 80.15 252.93 80.4 253.1 80.65 253.99 80.9 253.1 81.15 251.87 81.4 253.59 81.65 252.73 81.9 251.92 82.15 252.84 82.4 252.25 82.65 251.8 82.9 251.69 83.15 250.8 83.4 250.29 83.65 249.77 83.9 247.92 84.15 247.25 84.4 246.96 84.65 244.89 84.9 245.79 85.15 245.57 85.4 245.25 85.65 245.36 85.9 246.01 86.15 246.35 86.4 245.91 86.65 246.33 86.9 246.79 87.15 246.65 87.4 247.05 87.65 246.92 87.9 247.03 88.15 247.83 88.4 247.2 88.65 246.96 88.9 247.32 89.15 246.46 89.4 246.81 89.65 247.47 89.9 247.42 90.15 247.96 90.4 247.15 90.65 246.37 90.9 248.29 91.15 247.85 91.4 246.7 91.65 248.08 91.9 247.37 92.15 246.4 92.4 247.2 92.65 247.18 92.9 248.37 93.15 247.1 93.4 247.43 93.65 247.45 93.9 247.43 94.15 247.18 94.4 247.83 94.65 248.34 94.9 248.13 95.15 247.31 95.4 247.22 95.65 247.96 95.9 247.54 96.15 247.61 96.4 247.07 96.65 249.1 96.9 248.57 97.15 247.57 97.4 248.64 97.65 248.91 97.9 246.89 98.15 247.94 98.4 248.06 98.65 248.67 98.9 248.28 99.15 248.25 99.4 248.38 99.65 249.47 99.9 249.67 100.15 248.22 100.4 248.02 100.65 250.03 100.9 248.02 101.15 248.27 101.4 248.62 101.65 248.88 101.9 249.2 102.15 248.87 102.4 248.19 102.65 248.96 102.9 248.84 103.15 249.75 103.4 248.73 103.65 248.02 103.9 248.2 104.15 249.59 104.4 248.51 104.65 247.67 104.9 248.52 105.15 248.86 105.4 249.53 105.65 248.34 105.9 249.28 106.15 249.37 106.4 248.56 106.65 248.86 106.9 249.96 107.15 249.95 107.4 249.49 107.65 249.22 107.9 249.68 108.15 248.99 108.4 249.04 108.65 248.63 108.9 249.13 109.15 249.1 109.4 250.68 109.65 249.07 109.9 249.89 110.15 249.94 110.4 249.13 110.65 249.89 110.9 248.07 111.15 249.34 111.4 249.78 111.65 248.01 111.9 248.71 112.15 249.95 112.4 249.25 112.65 248.81 112.9 249.23 113.15 249.15 113.4 249.87 113.65 249.74 113.9 249.36 114.15 249.16 114.4 249.52 114.65 250.3 114.9 249.78 115.15 249.96 115.4 249.55 115.65 248.94 115.9 249.28 116.15 250.05 116.4 249.77 116.65 249.23 116.9 248.86 117.15 249.83 117.4 249.6 117.65 249.62 117.9 249.65 118.15 250 118.4 250.03 118.65 250.42 118.9 250.45 119.15 250.75 119.4 250.55 119.65 250.01 119.9 250.25 120.15 250.64 120.4 250.28 120.65 250.84 120.9 251.26 121.15 250.27 121.4 249.82 121.65 251.54 121.9 250.98 122.15 251.42 122.4 250.35 122.65 252.08 122.9 251.58 123.15 251.16 123.4 251.08 123.65 251.38 123.9 251.28 124.15 251.27 124.4 250.85 124.65 252.21 124.9 251.54 125.15 251.66 125.4 251.71 125.65 250.42 125.9 252.05 126.15 251.61 126.4 251.56 126.65 251.69 126.9 251.04 127.15 251.97 127.4 251.06 127.65 250.88 127.9 250.83 128.15 251.32 128.4 251.58 128.65 250.77 128.9 250.2 129.15 251.49 129.4 250.17 129.65 251.27 129.9 250.43 130.15 249.93 130.4 249.81 130.65 250.26 130.9 250.35 131.15 249.6 131.4 250.08 131.65 250.56 131.9 249.15 132.15 248.45 132.4 248.32 132.65 247.94 132.9 248.16 133.15 247.93 133.4 247.41 133.65 248.24 133.9 246.32 134.15 246.84 134.4 248.48 134.65 247.67 134.9 247.06 135.15 246.7 135.4 247.09 135.65 246.08 135.9 245.5 136.15 244.94 136.4 244.79 136.65 244.17 136.9 243.66 137.15 243.15 137.4 242.73 137.65 242.17 137.9 241.84 138.15 240.92 138.4 240.46 138.65 240.13 138.9 239.22 139.15 238.76 139.4 237.79 139.65 236.38 139.9 234.84 140.15 233.08 140.4 230.76 140.65 227.99 140.9 225.07 141.15 222.48 141.4 220.03 141.65 217.75 141.9 215.81 142.15 213.54 142.4 211.2 142.65 208.91 142.9 206.72 143.15 204.53 143.4 202.45 143.65 200.43 143.9 199.96 144.15 202.16 144.4 204.25 144.65 206.55 144.9 208.9 145.15 211.41 145.4 214.07 145.65 217.1 145.9 220.24 146.15 223 146.4 226.59 146.65 230.8 146.9 234.55 147.15 236.96 147.4 238.11 147.65 239.28 147.9 240.5 148.15 241.19 148.4 242.2 148.65 242.64 148.9 243.48 149.15 244.1 149.4 244.77 149.65 245.38 149.9 245.59 150.15 246.03 150.4 246.37 150.65 246.86 150.9 247.58 151.15 247.57 151.4 248.01 151.65 248.17 151.9 248.36 152.15 248.9 152.4 248.11 152.65 249.08 152.9 249.96 153.15 248.91 153.4 249.47 153.65 249.33 153.9 250.09 154.15 249.49 154.4 251.12 154.65 250.17 154.9 249.68 155.15 251.66 155.4 251.35 155.65 251.25 155.9 251.4 156.15 251.06 156.4 251.28 156.65 251.94 156.9 252.2 157.15 252.35 157.4 252.1 157.65 251.87 157.9 252.17 158.15 253.03 158.4 253.36 158.65 252.52 158.9 252.6 159.15 253.69 159.4 253.55 159.65 253.68 159.9 252.72 160.15 253.3 160.4 253.24 160.65 253.65 160.9 252.62 161.15 254.26 161.4 253.74 161.65 253.83 161.9 252.95 162.15 253.6 162.4 254.37 162.65 252.78 162.9 253.83 163.15 254.06 163.4 253.31 163.65 254.15 163.9 253.53 164.15 254.4 164.4 254.03 164.65 253.88 164.9 254.87 165.15 254.24 165.4 254.52 165.65 253.16 165.9 253.47 166.15 254.3 166.4 254.35 166.65 253.84 166.9 254.31 167.15 253.31 167.4 254.02 167.65 253.29 167.9 254.12 168.15 253.68 168.4 253.61 168.65 254.01 168.9 254.99 169.15 253.45 169.4 253.69 169.65 254.62 169.9 253.81 170.15 255.03 170.4 254.19 170.65 254.14 170.9 254.3 171.15 255.07 171.4 254.49 171.65 254.42 171.9 254.29 172.15 253.31 172.4 253.7 172.65 255.01 172.9 254.66 173.15 254.5 173.4 254.59 173.65 253.95 173.9 254.45 174.15 253.78 174.4 254.51 174.65 253.91 174.9 254.2 175.15 254.58 175.4 254.17 175.65 254.72 175.9 254.63 176.15 254.59 176.4 255.13 176.65 253.61 176.9 253.55 177.15 254.78 177.4 254.97 177.65 255.58 177.9 254.9 178.15 254.95 178.4 254.03 178.65 254.94 178.9 254.91 179.15 253.97 179.4 254.07 179.65 254.52 179.9 254.75 180.15 252.98 180.4 254.64 180.65 254.73 180.9 254.51 181.15 254.76 181.4 254.86 181.65 254.06 181.9 254.85 182.15 254.48 182.4 254.1 182.65 254.74 182.9 255.45 183.15 253.83 183.4 253.72 183.65 253.73 183.9 255.73 184.15 254.5 184.4 254.61 184.65 254.21 184.9 254.13 185.15 253.54 185.4 254.75 185.65 254.8 185.9 253.57 186.15 254.09 186.4 254.25 186.65 254.65 186.9 254.8 187.15 255.29 187.4 255.42 187.65 255.26 187.9 255.42 188.15 254.04 188.4 254.38 188.65 255.32 188.9 254.85 189.15 254.7 189.4 253.61 189.65 253.67 189.9 255.1 190.15 254.89 190.4 254.54 190.65 254.48 190.9 253.76 191.15 254.92 191.4 255.28 191.65 255.62 191.9 254.75 192.15 254.61 192.4 254.12 192.65 255.4 192.9 255.67 193.15 254.39 193.4 254.89 193.65 254.79 193.9 254.42 194.15 253.37 194.4 254.54 194.65 255.08 194.9 253.96 195.15 254.29 195.4 252.95 195.65 255.46 195.9 255.03 196.15 254.79 196.4 254.62 196.65 254.42 196.9 254.73 197.15 254.6 197.4 254.64 197.65 254.76 197.9 254.85 198.15 255.63 198.4 253.99 198.65 254.93 198.9 254.45 199.15 254.16 199.4 253.49 199.65 255.13 199.9 254.25 200.15 254.37 200.4 255.02 200.65 254.14 200.9 254.73 201.15 254.65 201.4 255.11 201.65 255.2 201.9 254.15 202.15 255.11 202.4 254.53 202.65 254.62 202.9 254.42 203.15 254.94 203.4 253.82 203.65 254.61 203.9 255.09 204.15 254.26 204.4 255.51 204.65 253.97 204.9 254.47 205.15 254.07 205.4 253.97 205.65 253.67 205.9 253.97 206.15 254.21 206.4 253.78 206.65 254.68 206.9 255.01 207.15 253.31 207.4 254.59 207.65 254.21 207.9 254.22 208.15 255.41 208.4 254.7 208.65 254.2 208.9 254.09 209.15 252.79 209.4 254.38 209.65 253.52 209.9 254.01 210.15 253.97 210.4 254.46 210.65 255.08 210.9 254.52 211.15 254.7 211.4 253.9 211.65 254.3 211.9 254.49 212.15 253.3 212.4 255.24 212.65 253.75 212.9 253.46 213.15 255.08 213.4 255.37 213.65 253.84 213.9 253.91 214.15 255.99 214.4 254.36 214.65 253.23 214.9 254 215.15 255.46 215.4 254.75 215.65 254.82 215.9 255.1 216.15 254.83 216.4 254.29 216.65 253.62 216.9 254.77 217.15 253.93 217.4 254.54 217.65 255.56 217.9 254.91 218.15 254.67 218.4 254.69 218.65 255.08 218.9 255.21 219.15 254 219.4 254.85 219.65 255.71 219.9 255.21 220.15 254.39 220.4 254.44 220.65 253.69 220.9 254.4 221.15 255.73 221.4 254.82 221.65 254.4 221.9 254.56 222.15 254.83 222.4 254.84 222.65 254.71 222.9 254.49 223.15 255.28 223.4 255.78 223.65 254.63 223.9 254.66 224.15 255.62 224.4 254.17 224.65 254.66 224.9 254.79 225.15 255.1 225.4 254.86 225.65 254.54 225.9 255.21 226.15 254.39 226.4 254.1 226.65 253.95 226.9 255.49 227.15 254.13 227.4 255.34 227.65 255.47 227.9 255.56 228.15 255.03 228.4 254.83 228.65 255.19 228.9 254.83 229.15 254.46 229.4 255.87 229.65 254.69 229.9 256.18 230.15 255.49 230.4 254.97 230.65 255.47 230.9 255.91 231.15 254.49 231.4 254.75 231.65 254.69 231.9 255.37 232.15 255.51 232.4 255.31 232.65 254.91 232.9 255.03 233.15 255.98 233.4 255.95 233.65 255.42 233.9 254.64 234.15 255.71 234.4 255.53 234.65 255.53 234.9 256.35 235.15 255.86 235.4 254.88 235.65 254.9 235.9 256.2 236.15 255.56 236.4 255.94 236.65 255.41 236.9 254.95 237.15 255.66 237.4 256.39 237.65 255.73 237.9 254.93 238.15 255.39 238.4 255.3 238.65 255.68 238.9 256.16 239.15 256.7 239.4 255.75 239.65 255.4 239.9 255.69 240.15 255.67 240.4 255.43 240.65 255.69 240.9 255.69 241.15 255.05 241.4 256.01 241.65 255.52 241.9 255.19 242.15 256.01 242.4 255.48 242.65 256.72 242.9 256.03 243.15 255.82 243.4 255.37 243.65 255.57 243.9 256.27 244.15 255.43 244.4 256.24 244.65 254.68 244.9 255.95 245.15 256.3 245.4 256.04 245.65 255.87 245.9 256.43 246.15 255.42 246.4 255.36 246.65 255.97 246.9 256.58 247.15 256.16 247.4 255.83 247.65 256.11 247.9 256.2 248.15 255.28 248.4 254.43 248.65 255.42 248.9 255.18 249.15 255.69 249.4 255.36 249.65 255.55 249.9 256.28 250.15 256.1 250.4 256.03 250.65 256.96 250.9 255.79 251.15 255.84 251.4 256.74 251.65 255.44 251.9 255.15 252.15 256.77 252.4 256.24 252.65 256.38 252.9 256.4 253.15 256.55 253.4 255.79 253.65 256.01 253.9 255.44 254.15 256.13 254.4 256.19 254.65 255.81 254.9 256.43 255.15 257.69 255.4 255.43 255.65 256.52 255.9 256.58 256.15 256.65 256.4 255.63 256.65 256.73 256.9 256.43 257.15 256 257.4 255.88 257.65 256.21 257.9 256.59 258.15 256.56 258.4 257.34 258.65 255.89 258.9 256.42 259.15 255.85 259.4 256.51 259.65 256.16 259.9 255.76 260.15 255.36 260.4 255.66 260.65 256.22 260.9 256.89 261.15 256.51 261.4 255.43 261.65 255.82 261.9 256.1 262.15 256.01 262.4 256.1 262.65 256.49 262.9 256.17 263.15 255.67 263.4 254.99 263.65 255.85 263.9 255.11 264.15 255.94 264.4 256.2 264.65 255.29 264.9 255.94 265.15 255.85 265.4 257.13 265.65 256.38 265.9 255.13 266.15 256.46 266.4 256.49 266.65 256.2 266.9 256.15 267.15 256.73 267.4 256.82 267.65 256.74 267.9 256 268.15 256.46 268.4 255.79 268.65 255.87 268.9 256.43 269.15 256.21 269.4 256.61 269.65 258.25 269.9 257.2 270.15 256.47 270.4 255.77 270.65 256.51 270.9 256.19 271.15 255.77 271.4 257.39 271.65 256.73 271.9 257.25 272.15 258.6 272.4 257.18 272.65 257.1 272.9 257.24 273.15 256.91 273.4 256.61 273.65 256.96 273.9 257.72 274.15 256.95 274.4 256.36 274.65 256.43 274.9 256.56 275.15 257.15 275.4 257.42 275.65 257.43 275.9 257.83 276.15 257.08 276.4 257.66 276.65 257.4 276.9 257.62 277.15 256.23 277.4 257.94 277.65 256.42 277.9 256.67 278.15 257.73 278.4 257.1 278.65 258.3 278.9 257.43 279.15 256.78 279.4 257.45 279.65 257.15 279.9 258.24 280.15 257.97 280.4 257.67 280.65 257.28 280.9 257.46 281.15 257.81 281.4 257.17 281.65 257.18 281.9 257.77 282.15 257.74 282.4 257.41 282.65 257.41 282.9 256.83 283.15 257.94 283.4 257.49 283.65 257.04 283.9 257.16 284.15 257.25 284.4 258.17 284.65 257.83 284.9 257.13 285.15 258.25 285.4 258.08 285.65 257.25 285.9 256.7 286.15 257.98 286.4 257.45 286.65 257.62 286.9 257.49 287.15 258.13 287.4 258.21 287.65 257.99 287.9 257.66 288.15 257.82 288.4 257.95 288.65 257.19 288.9 258.19 289.15 257.65 289.4 257.87 289.65 257.84 289.9 258.11 290.15 258.18 290.4 258.58 290.65 257.68 290.9 257.49 291.15 257.85 291.4 257.58 291.65 258.11 291.9 257.53 292.15 257.86 292.4 258.14 292.65 258.17 292.9 257.88 293.15 258.31 293.4 258.27 293.65 257.22 293.9 257.94 294.15 257.88 294.4 257.71 294.65 257.6 294.9 257.84 295.15 257.96 295.4 257.92 295.65 258.3 295.9 258.17 296.15 257.62 296.4 257.56 296.65 258.12 296.9 257.58 297.15 257.89 297.4 257.99 297.65 258.19 297.9 258.01 298.15 258.34 298.4 257.67 298.65 258.07 298.9 257.6 299.15 257.9 299.4 257.88 299.65 257.51 299.9 256.92 300.15 258.17 300.4 257.96 300.65 257.88 300.9 257.59 301.15 257.72 301.4 258 301.65 257.84 301.9 258.24 302.15 257.88 302.4 257.55 302.65 258.05 302.9 257.62 303.15 257.91 303.4 257.21 303.65 257.72 303.9 258.03 304.15 257.61 304.4 257.83 304.65 258.05 304.9 257.86 305.15 258.46 305.4 257.75 305.65 257.78 305.9 257.78 306.15 257.15 306.4 257.3 306.65 258.03 306.9 257.73 307.15 258.33 307.4 257.82 307.65 257.78 307.9 258.2 308.15 257.94 308.4 258.41 308.65 257.48 308.9 258 309.15 258.08 309.4 258.04 309.65 258.25 309.9 258.21 310.15 257.86 310.4 257.66 310.65 258.2 310.9 257.87 311.15 258.19 311.4 258.33 311.65 257.93 311.9 257.55 312.15 257.78 312.4 258.14 312.65 257.79 312.9 258.28 313.15 257.89 313.4 257.92 313.65 257.66 313.9 257.84 314.15 258.26 314.4 257.76 314.65 257.76 314.9 257.61 315.15 258.15 315.4 257.35 315.65 257.65 315.9 258.2 316.15 258.37 316.4 257.8 316.65 258.21 316.9 257.18 317.15 258.14 317.4 257.98 317.65 257.45 317.9 257.25 318.15 257.7 318.4 257.97 318.65 258.01 318.9 257.92 319.15 258.15 319.4 258.12 319.65 257.39 319.9 257.74 320.15 257.7 320.4 258.24 320.65 257.71 320.9 258.23 321.15 257.91 321.4 258.6 321.65 257.86 321.9 257.88 322.15 257.84 322.4 257.93 322.65 258.6 322.9 257.71 323.15 257.58 323.4 257.81 323.65 258.12 323.9 257.54 324.15 258.16 324.4 258.15 324.65 257.83 324.9 257.8 325.15 257.61 325.4 257.79 325.65 257.6 325.9 258.32 326.15 258.45 326.4 257.79 326.65 257.87 326.9 257.22 327.15 257.7 327.4 258 327.65 257.98 327.9 257.93 328.15 258.18 328.4 257.92 328.65 257.75 328.9 258.45 329.15 257.22 329.4 257.48 329.65 257.63 329.9 257.63 330.15 257.62 330.4 257.81 330.65 257.64 330.9 257.87 331.15 258.09 331.4 257.9 331.65 257.93 331.9 257.56 332.15 257.49 332.4 257.78 332.65 258.21 332.9 258.02 333.15 258.27 333.4 258.23 333.65 258.28 333.9 257.61 334.15 258.32 334.4 258.15 334.65 258.6 334.9 258.1 335.15 258 335.4 257.85 335.65 257.95 335.9 257.32 336.15 257.81 336.4 257.88 336.65 258.24 336.9 257.67 337.15 257.94 337.4 258.53 337.65 257.71 337.9 258.19 338.15 257.71 338.4 257.86 338.65 258.06 338.9 258.21 339.15 257.73 339.4 257.54 339.65 258.43 339.9 257.97 340.15 258.18 340.4 258.22 340.65 258.17 340.9 257.81 341.15 257.86 341.4 257.36 341.65 257.97 341.9 257.74 342.15 257.9 342.4 258.55 342.65 258.14 342.9 257.93 343.15 257.44 343.4 258.16 343.65 258.44 343.9 257.62 344.15 258.06 344.4 257.73 344.65 257.86 344.9 257.78 345.15 257.36 345.4 257.73 345.65 257.35 345.9 258.39 346.15 258.27 346.4 257.93 346.65 258.01 346.9 257.93 347.15 257.98 347.4 257.98 347.65 257.83 347.9 257.86 348.15 257.45 348.4 257.57 348.65 257.71 348.9 257.99 349.15 257.79 349.4 258.58 349.65 257.85 349.9 257.8 350.15 258.07 350.4 258.28 350.65 258.56 350.9 258.26 351.15 257.72 351.4 257.87 351.65 258.29 351.9 258.01 352.15 258.2 352.4 257.9 352.65 258.48 352.9 258.42 353.15 258.32 353.4 257.98 353.65 257.38 353.9 257.47 354.15 258.04 354.4 258.16 354.65 256.94 354.9 257.77 355.15 258.33 355.4 258.26 355.65 257.77 355.9 258.16 356.15 257.95 356.4 257.86 356.65 258.32 356.9 258.33 357.15 257.76 357.4 257.62 357.65 257.49 357.9 257.46 358.15 258.4 358.4 258.59 358.65 258.02 358.9 258.31 359.15 257.71 359.4 257.92 359.65 258.26 359.9 258.06 360.15 257.94 360.4 257.38 360.65 257.45 360.9 257.81 361.15 257.76 361.4 257.93 361.65 257.73 361.9 257.88 362.15 257.97 362.4 258.13 362.65 257.98 362.9 257.77 363.15 257.86 363.4 258.26 363.65 257.89 363.9 257.63 364.15 257.61 364.4 258.05 364.65 258.15 364.9 258.37 365.15 257.85 365.4 258.43 365.65 257.84 365.9 257.88 366.15 257.76 366.4 258.14 366.65 258.32 366.9 257.95 367.15 257.79 367.4 257.43 367.65 258.01 367.9 257.84 368.15 257.89 368.4 257.75 368.65 257.66 368.9 257.82 369.15 258.11 369.4 258.29 369.65 257.96 369.9 258.07 370.15 257.9 370.4 257.92 370.65 257.5 370.9 258.26 371.15 258.17 371.4 258.46 371.65 257.76 371.9 258.01 372.15 257.65 372.4 258.05 372.65 257.93 372.9 258.2 373.15 257.92 373.4 258.19 373.65 257.8 373.9 258.17 374.15 257.87 374.4 257.82 374.65 258 374.9 258.1 375.15 257.49 375.4 257.46 375.65 258.04 375.9 257.96 376.15 257.29 376.4 257.4 376.65 257.72 376.9 258.08 377.15 258.05 377.4 258.32 377.65 258.38 377.9 258.6 378.15 257.49 378.4 257.97 378.65 258.34 378.9 257.56 379.15 257.5 379.4 258.05 379.65 258.35 379.9 258.41 380.15 257.38 380.4 257.57 380.65 257.95 380.9 257.81 381.15 258.1 381.4 258.03 381.65 258.59 381.9 257.97 382.15 258.05 382.4 258.01 382.65 258.36 382.9 257.61 383.15 258.12 383.4 257.73 383.65 257.51 383.9 258.39 384.15 258.17 384.4 258.47 384.65 258.08 384.9 258.22 385.15 258.04 385.4 258.19 385.65 257.86 385.9 258.58 386.15 257.7 386.4 258.58 386.65 257.94 386.9 258.3 387.15 258.05 387.4 258.16 387.65 258.51 387.9 258.06 388.15 257.69 388.4 258.09 388.65 258.23 388.9 257.17 389.15 258.34 389.4 258.38 389.65 257.41 389.9 257.96 390.15 258.29 390.4 257.62 390.65 257.87 390.9 257.9 391.15 258.21 391.4 258.4 391.65 258 391.9 258.04 392.15 258.33 392.4 258.2 392.65 257.98 392.9 258.47 393.15 257.53 L393.15 259.4Z" fill="#ffe0e0" stroke="none"/><path d="M54.4 251.06V259.4H393.15V257.53" fill="none" stroke="#ff3030" stroke-width="1.2"/><path d="M54.4 251.06 54.65 251.01 54.9 251.83 55.15 252.43 55.4 253.06 55.65 252.73 55.9 252.6 56.15 252.61 56.4 253.51 56.65 254.06 56.9 253.38 57.15 252.61 57.4 252.82 57.65 254.29 57.9 253.59 58.15 252.58 58.4 253.55 58.65 253.02 58.9 253.38 59.15 253.52 59.4 253.46 59.65 254.22 59.9 253.94 60.15 253.68 60.4 254.23 60.65 254.46 60.9 253.1 61.15 253.86 61.4 253.46 61.65 253.9 61.9 253.29 62.15 254.01 62.4 253.98 62.65 253.83 62.9 253.42 63.15 253.78 63.4 253.4 63.65 253.25 63.9 254.12 64.15 253.39 64.4 254.64 64.65 254.39 64.9 252.9 65.15 254.15 65.4 253.39 65.65 254.02 65.9 254.02 66.15 252.91 66.4 253.87 66.65 253.86 66.9 254.53 67.15 253.35 67.4 254.41 67.65 253.4 67.9 253.82 68.15 253.54 68.4 254.8 68.65 254.31 68.9 255.34 69.15 254.35 69.4 254.46 69.65 254.46 69.9 253.67 70.15 253.95 70.4 254.71 70.65 253.73 70.9 254.03 71.15 253.9 71.4 254.22 71.65 253.67 71.9 253.76 72.15 253.96 72.4 253.86 72.65 253.31 72.9 254.26 73.15 253.03 73.4 253.07 73.65 253 73.9 254.22 74.15 253.47 74.4 253.11 74.65 253 74.9 253.84 75.15 253.01 75.4 252.87 75.65 253.89 75.9 252.87 76.15 253.33 76.4 253.48 76.65 253.22 76.9 253.42 77.15 254.16 77.4 253.12 77.65 252.7 77.9 252.36 78.15 253.24 78.4 253.13 78.65 253.45 78.9 253.03 79.15 253 79.4 252.85 79.65 252.94 79.9 253.3 80.15 252.93 80.4 253.1 80.65 253.99 80.9 253.1 81.15 251.87 81.4 253.59 81.65 252.73 81.9 251.92 82.15 252.84 82.4 252.25 82.65 251.8 82.9 251.69 83.15 250.8 83.4 250.29 83.65 249.77 83.9 247.92 84.15 247.25 84.4 246.96 84.65 244.89 84.9 245.79 85.15 245.57 85.4 245.25 85.65 245.36 85.9 246.01 86.15 246.35 86.4 245.91 86.65 246.33 86.9 246.79 87.15 246.65 87.4 247.05 87.65 246.92 87.9 247.03 88.15 247.83 88.4 247.2 88.65 246.96 88.9 247.32 89.15 246.46 89.4 246.81 89.65 247.47 89.9 247.42 90.15 247.96 90.4 247.15 90.65 246.37 90.9 248.29 91.15 247.85 91.4 246.7 91.65 248.08 91.9 247.37 92.15 246.4 92.4 247.2 92.65 247.18 92.9 248.37 93.15 247.1 93.4 247.43 93.65 247.45 93.9 247.43 94.15 247.18 94.4 247.83 94.65 248.34 94.9 248.13 95.15 247.31 95.4 247.22 95.65 247.96 95.9 247.54 96.15 247.61 96.4 247.07 96.65 249.1 96.9 248.57 97.15 247.57 97.4 248.64 97.65 248.91 97.9 246.89 98.15 247.94 98.4 248.06 98.65 248.67 98.9 248.28 99.15 248.25 99.4 248.38 99.65 249.47 99.9 249.67 100.15 248.22 100.4 248.02 100.65 250.03 100.9 248.02 101.15 248.27 101.4 248.62 101.65 248.88 101.9 249.2 102.15 248.87 102.4 248.19 102.65 248.96 102.9 248.84 103.15 249.75 103.4 248.73 103.65 248.02 103.9 248.2 104.15 249.59 104.4 248.51 104.65 247.67 104.9 248.52 105.15 248.86 105.4 249.53 105.65 248.34 105.9 249.28 106.15 249.37 106.4 248.56 106.65 248.86 106.9 249.96 107.15 249.95 107.4 249.49 107.65 249.22 107.9 249.68 108.15 248.99 108.4 249.04 108.65 248.63 108.9 249.13 109.15 249.1 109.4 250.68 109.65 249.07 109.9 249.89 110.15 249.94 110.4 249.13 110.65 249.89 110.9 248.07 111.15 249.34 111.4 249.78 111.65 248.01 111.9 248.71 112.15 249.95 112.4 249.25 112.65 248.81 112.9 249.23 113.15 249.15 113.4 249.87 113.65 249.74 113.9 249.36 114.15 249.16 114.4 249.52 114.65 250.3 114.9 249.78 115.15 249.96 115.4 249.55 115.65 248.94 115.9 249.28 116.15 250.05 116.4 249.77 116.65 249.23 116.9 248.86 117.15 249.83 117.4 249.6 117.65 249.62 117.9 249.65 118.15 250 118.4 250.03 118.65 250.42 118.9 250.45 119.15 250.75 119.4 250.55 119.65 250.01 119.9 250.25 120.15 250.64 120.4 250.28 120.65 250.84 120.9 251.26 121.15 250.27 121.4 249.82 121.65 251.54 121.9 250.98 122.15 251.42 122.4 250.35 122.65 252.08 122.9 251.58 123.15 251.16 123.4 251.08 123.65 251.38 123.9 251.28 124.15 251.27 124.4 250.85 124.65 252.21 124.9 251.54 125.15 251.66 125.4 251.71 125.65 250.42 125.9 252.05 126.15 251.61 126.4 251.56 126.65 251.69 126.9 251.04 127.15 251.97 127.4 251.06 127.65 250.88 127.9 250.83 128.15 251.32 128.4 251.58 128.65 250.77 128.9 250.2 129.15 251.49 129.4 250.17 129.65 251.27 129.9 250.43 130.15 249.93 130.4 249.81 130.65 250.26 130.9 250.35 131.15 249.6 131.4 250.08 131.65 250.56 131.9 249.15 132.15 248.45 132.4 248.32 132.65 247.94 132.9 248.16 133.15 247.93 133.4 247.41 133.65 248.24 133.9 246.32 134.15 246.84 134.4 248.48 134.65 247.67 134.9 247.06 135.15 246.7 135.4 247.09 135.65 246.08 135.9 245.5 136.15 244.94" fill="none" stroke="#ff0000" stroke-width="1.25" stroke-linejoin="round" stroke-linecap="round"/><path d="M136.15 244.94 136.4 244.79 136.65 244.17 136.9 243.66 137.15 243.15 137.4 242.73 137.65 242.17 137.9 241.84 138.15 240.92 138.4 240.46 138.65 240.13 138.9 239.22 139.15 238.76 139.4 237.79 139.65 236.38 139.9 234.84 140.15 233.08 140.4 230.76 140.65 227.99 140.9 225.07 141.15 222.48 141.4 220.03 141.65 217.75 141.9 215.81 142.15 213.54 142.4 211.2 142.65 208.91 142.9 206.72 143.15 204.53 143.4 202.45 143.65 200.43 143.9 199.96 144.15 202.16 144.4 204.25 144.65 206.55 144.9 208.9 145.15 211.41 145.4 214.07 145.65 217.1 145.9 220.24 146.15 223 146.4 226.59 146.65 230.8 146.9 234.55 147.15 236.96 147.4 238.11 147.65 239.28 147.9 240.5 148.15 241.19 148.4 242.2 148.65 242.64 148.9 243.48 149.15 244.1 149.4 244.77 149.65 245.38 149.9 245.59 150.15 246.03 150.4 246.37 150.65 246.86 150.9 247.58 151.15 247.57 151.4 248.01 151.65 248.17 151.9 248.36 152.15 248.9" fill="none" stroke="#ff0000" stroke-width="1.0" stroke-linejoin="round" stroke-linecap="round"/><path d="M152.15 248.9 152.4 248.11 152.65 249.08 152.9 249.96 153.15 248.91 153.4 249.47 153.65 249.33 153.9 250.09 154.15 249.49 154.4 251.12 154.65 250.17 154.9 249.68 155.15 251.66 155.4 251.35 155.65 251.25 155.9 251.4 156.15 251.06 156.4 251.28 156.65 251.94 156.9 252.2 157.15 252.35 157.4 252.1 157.65 251.87 157.9 252.17 158.15 253.03 158.4 253.36 158.65 252.52 158.9 252.6 159.15 253.69 159.4 253.55 159.65 253.68 159.9 252.72 160.15 253.3 160.4 253.24 160.65 253.65 160.9 252.62 161.15 254.26 161.4 253.74 161.65 253.83 161.9 252.95 162.15 253.6 162.4 254.37 162.65 252.78 162.9 253.83 163.15 254.06 163.4 253.31 163.65 254.15 163.9 253.53 164.15 254.4 164.4 254.03 164.65 253.88 164.9 254.87 165.15 254.24 165.4 254.52 165.65 253.16 165.9 253.47 166.15 254.3 166.4 254.35 166.65 253.84 166.9 254.31 167.15 253.31 167.4 254.02 167.65 253.29 167.9 254.12 168.15 253.68 168.4 253.61 168.65 254.01 168.9 254.99 169.15 253.45 169.4 253.69 169.65 254.62 169.9 253.81 170.15 255.03 170.4 254.19 170.65 254.14 170.9 254.3 171.15 255.07 171.4 254.49 171.65 254.42 171.9 254.29 172.15 253.31 172.4 253.7 172.65 255.01 172.9 254.66 173.15 254.5 173.4 254.59 173.65 253.95 173.9 254.45 174.15 253.78 174.4 254.51 174.65 253.91 174.9 254.2 175.15 254.58 175.4 254.17 175.65 254.72 175.9 254.63 176.15 254.59 176.4 255.13 176.65 253.61 176.9 253.55 177.15 254.78 177.4 254.97 177.65 255.58 177.9 254.9 178.15 254.95 178.4 254.03 178.65 254.94 178.9 254.91 179.15 253.97 179.4 254.07 179.65 254.52 179.9 254.75 180.15 252.98 180.4 254.64 180.65 254.73 180.9 254.51 181.15 254.76 181.4 254.86 181.65 254.06 181.9 254.85 182.15 254.48 182.4 254.1 182.65 254.74 182.9 255.45 183.15 253.83 183.4 253.72 183.65 253.73 183.9 255.73 184.15 254.5 184.4 254.61 184.65 254.21 184.9 254.13 185.15 253.54 185.4 254.75 185.65 254.8 185.9 253.57 186.15 254.09 186.4 254.25 186.65 254.65 186.9 254.8 187.15 255.29 187.4 255.42 187.65 255.26 187.9 255.42 188.15 254.04 188.4 254.38 188.65 255.32 188.9 254.85 189.15 254.7 189.4 253.61 189.65 253.67 189.9 255.1 190.15 254.89 190.4 254.54 190.65 254.48 190.9 253.76 191.15 254.92 191.4 255.28 191.65 255.62 191.9 254.75 192.15 254.61 192.4 254.12 192.65 255.4 192.9 255.67 193.15 254.39 193.4 254.89 193.65 254.79 193.9 254.42 194.15 253.37 194.4 254.54 194.65 255.08 194.9 253.96 195.15 254.29 195.4 252.95 195.65 255.46 195.9 255.03 196.15 254.79 196.4 254.62 196.65 254.42 196.9 254.73 197.15 254.6 197.4 254.64 197.65 254.76 197.9 254.85 198.15 255.63 198.4 253.99 198.65 254.93 198.9 254.45 199.15 254.16 199.4 253.49 199.65 255.13 199.9 254.25 200.15 254.37 200.4 255.02 200.65 254.14 200.9 254.73 201.15 254.65 201.4 255.11 201.65 255.2 201.9 254.15 202.15 255.11 202.4 254.53 202.65 254.62 202.9 254.42 203.15 254.94 203.4 253.82 203.65 254.61 203.9 255.09 204.15 254.26 204.4 255.51 204.65 253.97 204.9 254.47 205.15 254.07 205.4 253.97 205.65 253.67 205.9 253.97 206.15 254.21 206.4 253.78 206.65 254.68 206.9 255.01 207.15 253.31 207.4 254.59 207.65 254.21 207.9 254.22 208.15 255.41 208.4 254.7 208.65 254.2 208.9 254.09 209.15 252.79 209.4 254.38 209.65 253.52 209.9 254.01 210.15 253.97 210.4 254.46 210.65 255.08 210.9 254.52 211.15 254.7 211.4 253.9 211.65 254.3 211.9 254.49 212.15 253.3 212.4 255.24 212.65 253.75 212.9 253.46 213.15 255.08 213.4 255.37 213.65 253.84 213.9 253.91 214.15 255.99 214.4 254.36 214.65 253.23 214.9 254 215.15 255.46 215.4 254.75 215.65 254.82 215.9 255.1 216.15 254.83 216.4 254.29 216.65 253.62 216.9 254.77 217.15 253.93 217.4 254.54 217.65 255.56 217.9 254.91 218.15 254.67 218.4 254.69 218.65 255.08 218.9 255.21 219.15 254 219.4 254.85 219.65 255.71 219.9 255.21 220.15 254.39 220.4 254.44 220.65 253.69 220.9 254.4 221.15 255.73 221.4 254.82 221.65 254.4 221.9 254.56 222.15 254.83 222.4 254.84 222.65 254.71 222.9 254.49 223.15 255.28 223.4 255.78 223.65 254.63 223.9 254.66 224.15 255.62 224.4 254.17 224.65 254.66 224.9 254.79 225.15 255.1 225.4 254.86 225.65 254.54 225.9 255.21 226.15 254.39 226.4 254.1 226.65 253.95 226.9 255.49 227.15 254.13 227.4 255.34 227.65 255.47 227.9 255.56 228.15 255.03 228.4 254.83 228.65 255.19 228.9 254.83 229.15 254.46 229.4 255.87 229.65 254.69 229.9 256.18 230.15 255.49 230.4 254.97 230.65 255.47 230.9 255.91 231.15 254.49 231.4 254.75 231.65 254.69 231.9 255.37 232.15 255.51 232.4 255.31 232.65 254.91 232.9 255.03 233.15 255.98 233.4 255.95 233.65 255.42 233.9 254.64 234.15 255.71 234.4 255.53 234.65 255.53 234.9 256.35 235.15 255.86 235.4 254.88 235.65 254.9 235.9 256.2 236.15 255.56 236.4 255.94 236.65 255.41 236.9 254.95 237.15 255.66 237.4 256.39 237.65 255.73 237.9 254.93 238.15 255.39 238.4 255.3 238.65 255.68 238.9 256.16 239.15 256.7 239.4 255.75 239.65 255.4 239.9 255.69 240.15 255.67 240.4 255.43 240.65 255.69 240.9 255.69 241.15 255.05 241.4 256.01 241.65 255.52 241.9 255.19 242.15 256.01 242.4 255.48 242.65 256.72 242.9 256.03 243.15 255.82 243.4 255.37 243.65 255.57 243.9 256.27 244.15 255.43 244.4 256.24 244.65 254.68 244.9 255.95 245.15 256.3 245.4 256.04 245.65 255.87 245.9 256.43 246.15 255.42 246.4 255.36 246.65 255.97 246.9 256.58 247.15 256.16 247.4 255.83 247.65 256.11 247.9 256.2 248.15 255.28 248.4 254.43 248.65 255.42 248.9 255.18 249.15 255.69 249.4 255.36 249.65 255.55 249.9 256.28 250.15 256.1 250.4 256.03 250.65 256.96 250.9 255.79 251.15 255.84 251.4 256.74 251.65 255.44 251.9 255.15 252.15 256.77 252.4 256.24 252.65 256.38 252.9 256.4 253.15 256.55 253.4 255.79 253.65 256.01 253.9 255.44 254.15 256.13 254.4 256.19 254.65 255.81 254.9 256.43 255.15 257.69 255.4 255.43 255.65 256.52 255.9 256.58 256.15 256.65 256.4 255.63 256.65 256.73 256.9 256.43 257.15 256 257.4 255.88 257.65 256.21 257.9 256.59 258.15 256.56 258.4 257.34 258.65 255.89 258.9 256.42 259.15 255.85 259.4 256.51 259.65 256.16 259.9 255.76 260.15 255.36 260.4 255.66 260.65 256.22 260.9 256.89 261.15 256.51 261.4 255.43 261.65 255.82 261.9 256.1 262.15 256.01 262.4 256.1 262.65 256.49 262.9 256.17 263.15 255.67 263.4 254.99 263.65 255.85 263.9 255.11 264.15 255.94 264.4 256.2 264.65 255.29 264.9 255.94 265.15 255.85 265.4 257.13 265.65 256.38 265.9 255.13 266.15 256.46 266.4 256.49 266.65 256.2 266.9 256.15 267.15 256.73 267.4 256.82 267.65 256.74 267.9 256 268.15 256.46 268.4 255.79 268.65 255.87 268.9 256.43 269.15 256.21 269.4 256.61 269.65 258.25 269.9 257.2 270.15 256.47 270.4 255.77 270.65 256.51 270.9 256.19 271.15 255.77 271.4 257.39 271.65 256.73 271.9 257.25 272.15 258.6 272.4 257.18 272.65 257.1 272.9 257.24 273.15 256.91 273.4 256.61 273.65 256.96 273.9 257.72 274.15 256.95 274.4 256.36 274.65 256.43 274.9 256.56 275.15 257.15 275.4 257.42 275.65 257.43 275.9 257.83 276.15 257.08 276.4 257.66 276.65 257.4 276.9 257.62 277.15 256.23 277.4 257.94 277.65 256.42 277.9 256.67 278.15 257.73 278.4 257.1 278.65 258.3 278.9 257.43 279.15 256.78 279.4 257.45 279.65 257.15 279.9 258.24 280.15 257.97" fill="none" stroke="#ff0000" stroke-width="1.25" stroke-linejoin="round" stroke-linecap="round"/><path d="M280.15 257.97 280.4 257.67 280.65 257.28 280.9 257.46 281.15 257.81 281.4 257.17 281.65 257.18 281.9 257.77 282.15 257.74 282.4 257.41 282.65 257.41 282.9 256.83 283.15 257.94 283.4 257.49 283.65 257.04 283.9 257.16 284.15 257.25 284.4 258.17 284.65 257.83 284.9 257.13 285.15 258.25 285.4 258.08 285.65 257.25 285.9 256.7 286.15 257.98 286.4 257.45 286.65 257.62 286.9 257.49 287.15 258.13 287.4 258.21 287.65 257.99 287.9 257.66 288.15 257.82 288.4 257.95 288.65 257.19 288.9 258.19 289.15 257.65 289.4 257.87 289.65 257.84 289.9 258.11 290.15 258.18 290.4 258.58 290.65 257.68 290.9 257.49 291.15 257.85 291.4 257.58 291.65 258.11 291.9 257.53 292.15 257.86 292.4 258.14 292.65 258.17 292.9 257.88 293.15 258.31 293.4 258.27 293.65 257.22 293.9 257.94 294.15 257.88 294.4 257.71 294.65 257.6 294.9 257.84 295.15 257.96 295.4 257.92 295.65 258.3 295.9 258.17 296.15 257.62 296.4 257.56 296.65 258.12 296.9 257.58 297.15 257.89 297.4 257.99 297.65 258.19 297.9 258.01 298.15 258.34 298.4 257.67 298.65 258.07 298.9 257.6 299.15 257.9 299.4 257.88 299.65 257.51 299.9 256.92 300.15 258.17 300.4 257.96 300.65 257.88 300.9 257.59 301.15 257.72 301.4 258 301.65 257.84 301.9 258.24 302.15 257.88 302.4 257.55 302.65 258.05 302.9 257.62 303.15 257.91 303.4 257.21 303.65 257.72 303.9 258.03 304.15 257.61 304.4 257.83 304.65 258.05 304.9 257.86 305.15 258.46 305.4 257.75 305.65 257.78 305.9 257.78 306.15 257.15 306.4 257.3 306.65 258.03 306.9 257.73 307.15 258.33 307.4 257.82 307.65 257.78 307.9 258.2 308.15 257.94 308.4 258.41 308.65 257.48 308.9 258 309.15 258.08 309.4 258.04 309.65 258.25 309.9 258.21 310.15 257.86 310.4 257.66 310.65 258.2 310.9 257.87 311.15 258.19 311.4 258.33 311.65 257.93 311.9 257.55 312.15 257.78 312.4 258.14 312.65 257.79 312.9 258.28 313.15 257.89 313.4 257.92 313.65 257.66 313.9 257.84 314.15 258.26 314.4 257.76 314.65 257.76 314.9 257.61 315.15 258.15 315.4 257.35 315.65 257.65 315.9 258.2 316.15 258.37 316.4 257.8 316.65 258.21 316.9 257.18 317.15 258.14 317.4 257.98 317.65 257.45 317.9 257.25 318.15 257.7 318.4 257.97 318.65 258.01 318.9 257.92 319.15 258.15 319.4 258.12 319.65 257.39 319.9 257.74 320.15 257.7 320.4 258.24 320.65 257.71 320.9 258.23 321.15 257.91 321.4 258.6 321.65 257.86 321.9 257.88 322.15 257.84 322.4 257.93 322.65 258.6 322.9 257.71 323.15 257.58 323.4 257.81 323.65 258.12 323.9 257.54 324.15 258.16 324.4 258.15 324.65 257.83 324.9 257.8 325.15 257.61 325.4 257.79 325.65 257.6 325.9 258.32 326.15 258.45 326.4 257.79 326.65 257.87 326.9 257.22 327.15 257.7 327.4 258 327.65 257.98 327.9 257.93 328.15 258.18 328.4 257.92 328.65 257.75 328.9 258.45 329.15 257.22 329.4 257.48 329.65 257.63 329.9 257.63 330.15 257.62 330.4 257.81 330.65 257.64 330.9 257.87 331.15 258.09 331.4 257.9 331.65 257.93 331.9 257.56 332.15 257.49 332.4 257.78 332.65 258.21 332.9 258.02 333.15 258.27 333.4 258.23 333.65 258.28 333.9 257.61 334.15 258.32 334.4 258.15 334.65 258.6 334.9 258.1 335.15 258 335.4 257.85 335.65 257.95 335.9 257.32 336.15 257.81 336.4 257.88 336.65 258.24 336.9 257.67 337.15 257.94 337.4 258.53 337.65 257.71 337.9 258.19 338.15 257.71 338.4 257.86 338.65 258.06 338.9 258.21 339.15 257.73 339.4 257.54 339.65 258.43 339.9 257.97 340.15 258.18 340.4 258.22 340.65 258.17 340.9 257.81 341.15 257.86 341.4 257.36 341.65 257.97 341.9 257.74 342.15 257.9 342.4 258.55 342.65 258.14 342.9 257.93 343.15 257.44 343.4 258.16 343.65 258.44 343.9 257.62 344.15 258.06 344.4 257.73 344.65 257.86 344.9 257.78 345.15 257.36 345.4 257.73 345.65 257.35 345.9 258.39 346.15 258.27 346.4 257.93 346.65 258.01 346.9 257.93 347.15 257.98 347.4 257.98 347.65 257.83 347.9 257.86 348.15 257.45 348.4 257.57 348.65 257.71 348.9 257.99 349.15 257.79 349.4 258.58 349.65 257.85 349.9 257.8 350.15 258.07 350.4 258.28 350.65 258.56 350.9 258.26 351.15 257.72 351.4 257.87 351.65 258.29 351.9 258.01 352.15 258.2 352.4 257.9 352.65 258.48 352.9 258.42 353.15 258.32 353.4 257.98 353.65 257.38 353.9 257.47 354.15 258.04 354.4 258.16 354.65 256.94 354.9 257.77 355.15 258.33 355.4 258.26 355.65 257.77 355.9 258.16 356.15 257.95 356.4 257.86 356.65 258.32 356.9 258.33 357.15 257.76 357.4 257.62 357.65 257.49 357.9 257.46 358.15 258.4 358.4 258.59 358.65 258.02 358.9 258.31 359.15 257.71 359.4 257.92 359.65 258.26 359.9 258.06 360.15 257.94 360.4 257.38 360.65 257.45 360.9 257.81 361.15 257.76 361.4 257.93 361.65 257.73 361.9 257.88 362.15 257.97 362.4 258.13 362.65 257.98 362.9 257.77 363.15 257.86 363.4 258.26 363.65 257.89 363.9 257.63 364.15 257.61 364.4 258.05 364.65 258.15 364.9 258.37 365.15 257.85 365.4 258.43 365.65 257.84 365.9 257.88 366.15 257.76 366.4 258.14 366.65 258.32 366.9 257.95 367.15 257.79 367.4 257.43 367.65 258.01 367.9 257.84 368.15 257.89 368.4 257.75 368.65 257.66 368.9 257.82 369.15 258.11 369.4 258.29 369.65 257.96 369.9 258.07 370.15 257.9 370.4 257.92 370.65 257.5 370.9 258.26 371.15 258.17 371.4 258.46 371.65 257.76 371.9 258.01 372.15 257.65 372.4 258.05 372.65 257.93 372.9 258.2 373.15 257.92 373.4 258.19 373.65 257.8 373.9 258.17 374.15 257.87 374.4 257.82 374.65 258 374.9 258.1 375.15 257.49 375.4 257.46 375.65 258.04 375.9 257.96 376.15 257.29 376.4 257.4 376.65 257.72 376.9 258.08 377.15 258.05 377.4 258.32 377.65 258.38 377.9 258.6 378.15 257.49 378.4 257.97 378.65 258.34 378.9 257.56 379.15 257.5 379.4 258.05 379.65 258.35 379.9 258.41 380.15 257.38 380.4 257.57 380.65 257.95 380.9 257.81 381.15 258.1 381.4 258.03 381.65 258.59 381.9 257.97 382.15 258.05 382.4 258.01 382.65 258.36 382.9 257.61 383.15 258.12 383.4 257.73 383.65 257.51 383.9 258.39 384.15 258.17 384.4 258.47 384.65 258.08 384.9 258.22 385.15 258.04 385.4 258.19 385.65 257.86 385.9 258.58 386.15 257.7 386.4 258.58 386.65 257.94 386.9 258.3 387.15 258.05 387.4 258.16 387.65 258.51 387.9 258.06 388.15 257.69 388.4 258.09 388.65 258.23 388.9 257.17 389.15 258.34 389.4 258.38 389.65 257.41 389.9 257.96 390.15 258.29 390.4 257.62 390.65 257.87 390.9 257.9 391.15 258.21 391.4 258.4 391.65 258 391.9 258.04 392.15 258.33 392.4 258.2 392.65 257.98 392.9 258.47 393.15 257.53" fill="none" stroke="#ff0000" stroke-width="2.0" stroke-linejoin="round" stroke-linecap="round"/><path d="M25 289.2 L25 278.4 25.25 279.57 25.5 278.52 25.75 280.64 26 281.39 26.25 280.58 26.5 281.62 26.75 281.62 27 281.28 27.25 281.06 27.5 280.32 27.75 283.04 28 282.08 28.25 284.14 28.5 283.01 28.75 282.73 29 282.16 29.25 283.84 29.5 282.55 29.75 284.24 30 282.9 30.25 283.36 30.5 282.11 30.75 285.03 31 283.23 31.25 283.04 31.5 283.96 31.75 282.71 32 283.98 32.25 282.55 32.5 283.86 32.75 282.69 33 282.12 33.25 283.08 33.5 282.45 33.75 283.99 34 283.62 34.25 284.01 34.5 283.72 34.75 283.41 35 283.72 35.25 284.48 35.5 283.54 35.75 283.1 36 282.93 36.25 283.48 36.5 283.08 36.75 285.04 37 282.74 37.25 282.8 37.5 283.37 37.75 284.08 38 283.38 38.25 282.85 38.5 282.95 38.75 283.29 39 284.27 39.25 282.8 39.5 283.45 39.75 283.05 40 283.74 40.25 283.79 40.5 282.38 40.75 285.26 41 283.6 41.25 283.07 41.5 282.77 41.75 283.24 42 283.44 42.25 283.86 42.5 283.4 42.75 283.75 43 282.17 43.25 282.81 43.5 282.61 43.75 283.47 44 283.68 44.25 282.23 44.5 283.19 44.75 283.85 45 283.99 45.25 282.43 45.5 283.65 45.75 283.45 46 282.83 46.25 284.59 46.5 282.25 46.75 282.84 47 283.36 47.25 283.16 47.5 282.81 47.75 283.94 48 283.96 48.25 283.52 48.5 283.55 48.75 282.72 49 281.85 49.25 284.33 49.5 281.94 49.75 284.29 50 282.49 50.25 282.72 50.5 282.39 50.75 283.2 51 282.06 51.25 283.79 51.5 282.77 51.75 282.47 52 281.87 52.25 282.08 52.5 281.44 52.75 282.43 53 281.28 53.25 278.98 53.5 280.87 53.75 277.51 54 280.02 54.25 277.02 54.5 278 54.75 277.83 55 276.43 55.25 274.83 55.5 275.79 55.75 272.75 56 272.2 56.25 274.46 56.5 272.9 56.75 273.86 57 274.41 57.25 273.85 57.5 274.26 57.75 274.27 58 274.46 58.25 275.32 58.5 275.25 58.75 274.92 59 275.49 59.25 274.52 59.5 274.48 59.75 274.42 60 275.89 60.25 276.56 60.5 275.45 60.75 273.94 61 275.09 61.25 275.86 61.5 275.78 61.75 275.67 62 276.38 62.25 276.38 62.5 274.72 62.75 276.09 63 275.26 63.25 276.03 63.5 276.83 63.75 277.31 64 276.5 64.25 275.64 64.5 275.8 64.75 276.51 65 275.41 65.25 276.14 65.5 276.69 65.75 276.97 66 276.1 66.25 276.64 66.5 277.43 66.75 276.68 67 275.2 67.25 276.69 67.5 276.76 67.75 276.3 68 276.69 68.25 275.6 68.5 277.68 68.75 277.1 69 276.42 69.25 277.05 69.5 277.01 69.75 276.31 70 275 70.25 274.88 70.5 278.56 70.75 276.22 71 276.86 71.25 277.53 71.5 276.85 71.75 278.03 72 276.45 72.25 277.6 72.5 275.63 72.75 277.76 73 277.76 73.25 277.54 73.5 277.51 73.75 277.5 74 277.97 74.25 278.06 74.5 276.65 74.75 278.17 75 276.69 75.25 277.54 75.5 277.25 75.75 277.82 76 277.23 76.25 277.8 76.5 277.16 76.75 276.82 77 278.36 77.25 278.01 77.5 277.99 77.75 278.34 78 276.85 78.25 278.35 78.5 276.89 78.75 277.99 79 277.59 79.25 277.94 79.5 278.28 79.75 277.8 80 277.11 80.25 278.48 80.5 278.64 80.75 278.25 81 278.5 81.25 276.38 81.5 277.73 81.75 277.57 82 276.17 82.25 277.7 82.5 277.6 82.75 276.45 83 276.93 83.25 277.6 83.5 277.97 83.75 278.03 84 276.65 84.25 276.65 84.5 277.06 84.75 277.38 85 276.97 85.25 277.24 85.5 277.89 85.75 277.85 86 277.42 86.25 276.44 86.5 276.91 86.75 277.68 87 277.89 87.25 278.02 87.5 276.4 87.75 276.83 88 276.25 88.25 274.93 88.5 276.3 88.75 275.77 89 278.13 89.25 277.42 89.5 276.56 89.75 277.07 90 277.31 90.25 278.27 90.5 277.5 90.75 278.02 91 277.2 91.25 277.77 91.5 277.83 91.75 277.4 92 276.69 92.25 277.44 92.5 276.28 92.75 277.61 93 276.29 93.25 275.94 93.5 277.82 93.75 276.06 94 276.45 94.25 275.49 94.5 275.72 94.75 275.94 95 275.41 95.25 277.03 95.5 275.53 95.75 275.09 96 276.82 96.25 276.47 96.5 274.16 96.75 275.43 97 276.56 97.25 275.2 97.5 275.52 97.75 275.51 98 273.95 98.25 274.94 98.5 276.14 98.75 276.61 99 275.42 99.25 275.36 99.5 275.81 99.75 275.48 100 275.7 100.25 274.58 100.5 275.17 100.75 275.45 101 275.44 101.25 273.74 101.5 275.44 101.75 274.83 102 274.78 102.25 273.26 102.5 274.53 102.75 273.24 103 272.45 103.25 274.33 103.5 274.18 103.75 274.14 104 274.15 104.25 273.89 104.5 274.6 104.75 274.25 105 274.74 105.25 275.3 105.5 273.86 105.75 273.75 106 274.46 106.25 272.25 106.5 272.4 106.75 272.38 107 270.56 107.25 271.99 107.5 271.99 107.75 269.4 108 269.27 108.25 269.53 108.5 269.13 108.75 268.22 109 268.09 109.25 266.8 109.5 265.37 109.75 264.41 110 263.21 110.25 262.14 110.5 260.95 110.75 259.51 111 257.25 111.25 254.98 111.5 252.81 111.75 250.6 112 248.14 112.25 245.37 112.5 242.88 112.75 240.4 113 237.36 113.25 233.64 113.5 229.88 113.75 226.61 114 223.42 114.25 220.39 114.5 217.13 114.75 214.22 115 216.76 115.25 220.22 115.5 224.13 115.75 227.52 116 231.72 116.25 235.88 116.5 239.86 116.75 243.33 117 246.25 117.25 249.27 117.5 251.62 117.75 253.89 118 255.63 118.25 257.94 118.5 259.86 118.75 261.37 119 262.59 119.25 263.99 119.5 265.45 119.75 266.67 120 268.08 120.25 268.65 120.5 269.16 120.75 269.68 121 270.21 121.25 270.85 121.5 271.48 121.75 272.13 122 273.72 122.25 272.21 122.5 273.72 122.75 274.34 123 275.35 123.25 275.7 123.5 274.3 123.75 276.05 124 275.03 124.25 276.37 124.5 276.39 124.75 277 125 279.01 125.25 277.79 125.5 278.19 125.75 279.02 126 280.1 126.25 278.16 126.5 280.79 126.75 279.14 127 279.1 127.25 280.08 127.5 280.63 127.75 282.29 128 281.07 128.25 280.09 128.5 280.52 128.75 280.09 129 281.44 129.25 281.7 129.5 280.97 129.75 282.21 130 280.23 130.25 281.17 130.5 280.87 130.75 281.16 131 280.42 131.25 282.4 131.5 281 131.75 281.65 132 282.68 132.25 283.04 132.5 282.75 132.75 280.23 133 281.71 133.25 281.71 133.5 281.5 133.75 281.46 134 281.67 134.25 282.57 134.5 281.82 134.75 281.19 135 281.05 135.25 282.39 135.5 281.02 135.75 282.88 136 282.02 136.25 282.05 136.5 282.64 136.75 282.23 137 283.08 137.25 281.62 137.5 281.25 137.75 284.13 138 282.82 138.25 280.79 138.5 284.05 138.75 281.74 139 284.39 139.25 284.25 139.5 283.59 139.75 282.96 140 282.34 140.25 283.73 140.5 282.73 140.75 283.86 141 282.85 141.25 281.89 141.5 282.56 141.75 283.15 142 282.75 142.25 283.24 142.5 282.46 142.75 284.38 143 282.79 143.25 283.59 143.5 281.95 143.75 283.86 144 284.41 144.25 283.72 144.5 283.09 144.75 282.59 145 283.77 145.25 283.76 145.5 282.36 145.75 283.37 146 283.78 146.25 282.8 146.5 283.86 146.75 283.21 147 284.53 147.25 282.49 147.5 283.86 147.75 283.57 148 282.08 148.25 282.81 148.5 282.88 148.75 284.24 149 283.28 149.25 283.56 149.5 283.69 149.75 285.54 150 283.43 150.25 285.08 150.5 283.5 150.75 282.47 151 283.05 151.25 282.75 151.5 283.42 151.75 282.61 152 283.04 152.25 285.18 152.5 283.94 152.75 284.02 153 285.16 153.25 282.56 153.5 284.24 153.75 283.48 154 283.82 154.25 283.35 154.5 283.97 154.75 284.82 155 284.81 155.25 284.11 155.5 284.55 155.75 283.05 156 281.77 156.25 284.76 156.5 285.53 156.75 284.36 157 283.56 157.25 284.08 157.5 284.97 157.75 283.19 158 284.14 158.25 284.56 158.5 283.34 158.75 285.7 159 284.76 159.25 285.41 159.5 283.36 159.75 284.35 160 285.36 160.25 284.53 160.5 285.13 160.75 282.78 161 284.09 161.25 282.64 161.5 283.76 161.75 284.34 162 284.03 162.25 283.15 162.5 284.31 162.75 284.57 163 283.99 163.25 284.66 163.5 284.9 163.75 284.96 164 283.76 164.25 284.39 164.5 283.51 164.75 283.91 165 284.77 165.25 283.88 165.5 283.6 165.75 283.49 166 284.31 166.25 285.12 166.5 284.59 166.75 283.72 167 284.48 167.25 284.58 167.5 284.95 167.75 283.33 168 284.31 168.25 283.51 168.5 283.4 168.75 284.73 169 284.19 169.25 283.83 169.5 284.78 169.75 283.87 170 283.07 170.25 284.4 170.5 283.02 170.75 283.05 171 283.37 171.25 283.56 171.5 284.34 171.75 283.39 172 282.28 172.25 283.2 172.5 283.85 172.75 283.51 173 283.5 173.25 282.67 173.5 283.28 173.75 283.99 174 283.99 174.25 282.91 174.5 282.98 174.75 282.78 175 284.2 175.25 282.91 175.5 283.25 175.75 282.81 176 282.72 176.25 283.28 176.5 284.02 176.75 282.89 177 284.18 177.25 283.23 177.5 283.79 177.75 285.08 178 284.9 178.25 283.39 178.5 283.21 178.75 283.01 179 283.63 179.25 281.67 179.5 282.52 179.75 282.92 180 282.43 180.25 282.29 180.5 284.03 180.75 282 181 282.8 181.25 282.72 181.5 282.83 181.75 282.43 182 283.81 182.25 283.18 182.5 284.61 182.75 282.31 183 283.45 183.25 282.43 183.5 283.59 183.75 284.33 184 282.62 184.25 284.25 184.5 282.93 184.75 282.71 185 283.84 185.25 284.18 185.5 283.73 185.75 283.88 186 283.64 186.25 283.3 186.5 282.09 186.75 283.44 187 283.21 187.25 284.16 187.5 283.15 187.75 285.29 188 284.27 188.25 283.5 188.5 284.33 188.75 283.66 189 284.83 189.25 283.57 189.5 284.98 189.75 283.12 190 284.02 190.25 283.9 190.5 283.3 190.75 283.75 191 284.01 191.25 283.13 191.5 283.4 191.75 284.42 192 283.49 192.25 285.28 192.5 285.29 192.75 283.77 193 284.41 193.25 284.55 193.5 284.71 193.75 283.79 194 284.76 194.25 283.82 194.5 284.16 194.75 285.19 195 284.21 195.25 283.56 195.5 283.87 195.75 284.56 196 283.76 196.25 283.62 196.5 284.48 196.75 283.68 197 285.98 197.25 283.92 197.5 284.95 197.75 283.35 198 284.22 198.25 285.1 198.5 284.9 198.75 285 199 284.1 199.25 284.7 199.5 284.42 199.75 283.53 200 285.46 200.25 284.1 200.5 284.45 200.75 285.28 201 285.14 201.25 286.6 201.5 284.61 201.75 285.75 202 284.6 202.25 284.72 202.5 285.51 202.75 285.21 203 284.35 203.25 284.67 203.5 284.88 203.75 286.02 204 284.2 204.25 284.95 204.5 285.24 204.75 284.9 205 284.43 205.25 285.44 205.5 284.13 205.75 286.29 206 282.88 206.25 283.4 206.5 284.99 206.75 285.36 207 285.24 207.25 284.46 207.5 284.8 207.75 284.94 208 284.27 208.25 284.66 208.5 284.24 208.75 285.83 209 285.28 209.25 284.66 209.5 284.71 209.75 284.66 210 284.77 210.25 285.22 210.5 284.76 210.75 284.66 211 285.34 211.25 284.94 211.5 285.07 211.75 285.14 212 284.95 212.25 284.26 212.5 284.93 212.75 286.02 213 284.49 213.25 284.52 213.5 284.83 213.75 284.87 214 286.21 214.25 284.95 214.5 286.06 214.75 285.8 215 285.75 215.25 285.7 215.5 285.5 215.75 285.63 216 286.16 216.25 283.73 216.5 285.54 216.75 286.16 217 284.8 217.25 285.27 217.5 285.95 217.75 284 218 285.55 218.25 284.51 218.5 285.52 218.75 285.63 219 285.55 219.25 284.61 219.5 285.39 219.75 284.92 220 285.63 220.25 285.11 220.5 284.75 220.75 286.08 221 284.45 221.25 284.98 221.5 286.17 221.75 285.62 222 285.99 222.25 284.58 222.5 285.45 222.75 284.65 223 283.97 223.25 285.73 223.5 284.51 223.75 285.36 224 284.55 224.25 285.67 224.5 285.68 224.75 284.48 225 284.47 225.25 283.23 225.5 284.86 225.75 285.02 226 284.64 226.25 285.71 226.5 285.11 226.75 285.17 227 284.69 227.25 284.02 227.5 285.18 227.75 285.77 228 286.04 228.25 285.25 228.5 284.16 228.75 284.85 229 285.21 229.25 284.25 229.5 284.79 229.75 284.58 230 284.45 230.25 284.28 230.5 285.27 230.75 285.44 231 285.95 231.25 284.82 231.5 285.06 231.75 283.7 232 285.2 232.25 286.06 232.5 284.48 232.75 285.48 233 284.75 233.25 285.57 233.5 285.76 233.75 284.17 234 284.62 234.25 284.77 234.5 285.21 234.75 286.39 235 285.47 235.25 285.58 235.5 285.66 235.75 285.07 236 286.41 236.25 286.02 236.5 286.26 236.75 285.9 237 284.71 237.25 286.18 237.5 285.35 237.75 285.17 238 287.92 238.25 286.62 238.5 285.66 238.75 286.63 239 286.88 239.25 286.25 239.5 285.82 239.75 286.9 240 286.77 240.25 286.74 240.5 284.98 240.75 286.59 241 287.83 241.25 285.48 241.5 286.01 241.75 285.74 242 285.97 242.25 286.26 242.5 287.92 242.75 286.19 243 287.65 243.25 285.74 243.5 286.95 243.75 286.46 244 286.2 244.25 286.75 244.5 287.57 244.75 286.88 245 287.1 245.25 286.69 245.5 287.01 245.75 286.98 246 287.31 246.25 286.62 246.5 286.28 246.75 286.4 247 286.4 247.25 287.2 247.5 286.21 247.75 287.38 248 287.04 248.25 287.83 248.5 287.06 248.75 287.73 249 287.27 249.25 287.1 249.5 286.75 249.75 287.36 250 287.09 250.25 286.57 250.5 286.69 250.75 285.62 251 287.99 251.25 287.99 251.5 286.79 251.75 286.22 252 287.7 252.25 288.06 252.5 287.22 252.75 286.76 253 288.24 253.25 287.98 253.5 288.1 253.75 288.4 254 287.35 254.25 287.52 254.5 288.4 254.75 288.08 255 288.4 255.25 285.52 255.5 286.35 255.75 287.96 256 287.89 256.25 286.7 256.5 286.87 256.75 286.93 257 288.09 257.25 286.55 257.5 287.53 257.75 287.08 258 285.41 258.25 287.9 258.5 288.4 258.75 287.58 259 288.33 259.25 287.81 259.5 287.65 259.75 286.56 260 287.7 260.25 286.32 260.5 287.37 260.75 287.94 261 287.96 261.25 287.22 261.5 287.72 261.75 287.05 262 288.4 262.25 286.97 262.5 288.4 262.75 288.4 263 287.81 263.25 288.4 263.5 287.18 263.75 288.4 264 287.41 264.25 287.93 264.5 287.48 264.75 287.31 265 287.45 265.25 288.03 265.5 287.66 265.75 288.4 266 287.95 266.25 285.87 266.5 287.32 266.75 287.66 267 288.09 267.25 288.31 267.5 286.87 267.75 288 268 287.2 268.25 287.9 268.5 287.62 268.75 288.4 269 288.4 269.25 288.4 269.5 287.24 269.75 287.44 270 287.85 270.25 287.4 270.5 287.35 270.75 288.21 271 288.4 271.25 288.07 271.5 288.4 271.75 286.75 272 288.4 272.25 288.4 272.5 287.96 272.75 287.45 273 288.29 273.25 286.58 273.5 288.06 273.75 286.51 274 288.4 274.25 287.81 274.5 287.27 274.75 286.26 275 288.4 275.25 287.92 275.5 287.44 275.75 288.4 276 286.84 276.25 288.4 276.5 288.4 276.75 287.67 277 288.4 277.25 288.4 277.5 287.33 277.75 287.37 278 288.4 278.25 288.4 278.5 287.32 278.75 285.56 279 286.75 279.25 288.4 279.5 287.53 279.75 287.2 280 288.19 280.25 286.59 280.5 288.4 280.75 286.45 281 287.76 281.25 288.2 281.5 288.37 281.75 287.08 282 287.65 282.25 288.4 282.5 288.01 282.75 288.4 283 288.03 283.25 288.06 283.5 287.27 283.75 287.03 284 287.71 284.25 287.07 284.5 288.4 284.75 288.4 285 288.4 285.25 286.8 285.5 286.94 285.75 288.4 286 288.04 286.25 288.09 286.5 288.4 286.75 287.16 287 286.96 287.25 287.27 287.5 288.4 287.75 287.87 288 287.32 288.25 288.4 288.5 288.4 288.75 288.4 289 288.37 289.25 287.75 289.5 288.4 289.75 288.4 290 287.02 290.25 287.06 290.5 287.42 290.75 288.4 291 287.45 291.25 287.71 291.5 287.57 291.75 287.97 292 288.4 292.25 287.59 292.5 287.93 292.75 288.4 293 286.77 293.25 288.16 293.5 288.07 293.75 287.87 294 288.4 294.25 288.4 294.5 287.94 294.75 287.9 295 288.4 295.25 287.06 295.5 287.67 295.75 288.17 296 288.1 296.25 287.39 296.5 288.4 296.75 287.09 297 287.42 297.25 287.19 297.5 288.23 297.75 288.4 298 287.87 298.25 288.4 298.5 287.63 298.75 288.01 299 288.11 299.25 287.92 299.5 288.08 299.75 287.18 300 286.38 300.25 287.54 300.5 287.66 300.75 287.77 301 287.17 301.25 287.01 301.5 288.4 301.75 288.4 302 288.2 302.25 288.07 302.5 287.47 302.75 287.84 303 288.4 303.25 288.4 303.5 287.52 303.75 287.58 304 287.56 304.25 287.42 304.5 288.4 304.75 288.4 305 288.19 305.25 287.5 305.5 288.4 305.75 287.97 306 286.08 306.25 288.4 306.5 288.12 306.75 287.51 307 288.4 307.25 286.2 307.5 287.46 307.75 288.4 308 287.41 308.25 288.4 308.5 288.4 308.75 288.17 309 288.12 309.25 288.4 309.5 288.4 309.75 287.18 310 287.77 310.25 287.31 310.5 288.4 310.75 288.1 311 288.4 311.25 288.16 311.5 287.39 311.75 287.13 312 288.4 312.25 288.4 312.5 287.34 312.75 286.86 313 286.79 313.25 288.4 313.5 287.69 313.75 288.4 314 287.66 314.25 287.75 314.5 287.79 314.75 288.4 315 288.4 315.25 287.27 315.5 288.4 315.75 288.4 316 287.87 316.25 287.7 316.5 288.4 316.75 287.54 317 287.79 317.25 287.29 317.5 287.61 317.75 288.2 318 288.28 318.25 287.83 318.5 288.07 318.75 287.02 319 288.4 319.25 287.18 319.5 288.38 319.75 287.39 320 287.99 320.25 286.46 320.5 287.46 320.75 287.05 321 288.22 321.25 288.04 321.5 287.28 321.75 287.23 322 288.27 322.25 287.59 322.5 288.4 322.75 288.18 323 287.61 323.25 287.75 323.5 286.57 323.75 287.94 324 287.78 324.25 287.94 324.5 288.4 324.75 288.07 325 287.97 325.25 287.96 325.5 287.65 325.75 288.4 326 287.94 326.25 288.4 326.5 288.4 326.75 287.42 327 288.13 327.25 288.4 327.5 287.7 327.75 288.04 328 287.81 328.25 287.83 328.5 288.4 328.75 287.37 329 287.74 329.25 288.1 329.5 286.01 329.75 287.74 330 288.05 330.25 288.26 330.5 287.49 330.75 287.27 331 288.4 331.25 287.46 331.5 288.3 331.75 288.03 332 287.41 332.25 287.62 332.5 287.38 332.75 288.4 333 288.11 333.25 286.68 333.5 288.4 333.75 288.4 334 288.4 334.25 287.29 334.5 287.6 334.75 287.54 335 288.4 335.25 288.05 335.5 288.2 335.75 287.81 336 286.95 336.25 288.4 336.5 288.4 336.75 287.78 337 287.32 337.25 287.49 337.5 287.52 337.75 286.89 338 287.6 338.25 287.74 338.5 286.86 338.75 288.31 339 287.65 339.25 287.12 339.5 288.01 339.75 288.4 340 288.4 340.25 288.4 340.5 288.4 340.75 288.4 341 288.4 341.25 288.4 341.5 288.4 341.75 287.73 342 288.4 342.25 286.99 342.5 288.4 342.75 288.4 343 287.76 343.25 288.4 343.5 287.31 343.75 288.4 344 287.84 344.25 288.31 344.5 287.74 344.75 288.4 345 287.9 345.25 288.4 345.5 288.04 345.75 288.22 346 287.84 346.25 288.35 346.5 287.68 346.75 287.85 347 286.99 347.25 287.68 347.5 287.73 347.75 287.91 348 288.06 348.25 286.87 348.5 288.4 348.75 288.4 349 288.05 349.25 286.56 349.5 288.4 349.75 288.03 350 287.87 350.25 288.14 350.5 288.04 350.75 287.87 351 288.4 351.25 288.23 351.5 287.8 351.75 288.4 352 288.4 352.25 288.4 352.5 287.31 352.75 288.09 353 288.4 353.25 288.17 353.5 287.97 353.75 288.4 354 288.32 354.25 288.4 354.5 286.94 354.75 287 355 287.69 355.25 288.2 355.5 288.4 355.75 287.48 356 288.4 356.25 288.2 356.5 287.71 356.75 288.4 357 288.4 357.25 288.12 357.5 288.1 357.75 288.28 358 288.4 358.25 287.9 358.5 288.04 358.75 288.19 359 287.96 359.25 288.33 359.5 287.54 359.75 286.6 360 287.67 360.25 287.77 360.5 288.4 360.75 288.4 361 288.34 361.25 287.68 361.5 287.16 361.75 287.54 362 288.4 362.25 287.93 362.5 287.26 362.75 288.17 363 287.52 363.25 288.35 L363.25 289.2Z" fill="#e2e2e2" stroke="none"/><path d="M25 278.4V289.2H363.25V288.35" fill="none" stroke="#3a3a3a" stroke-width="1.3"/><path d="M25 278.4 25.25 279.57 25.5 278.52 25.75 280.64 26 281.39 26.25 280.58 26.5 281.62 26.75 281.62 27 281.28 27.25 281.06 27.5 280.32 27.75 283.04 28 282.08 28.25 284.14 28.5 283.01 28.75 282.73 29 282.16 29.25 283.84 29.5 282.55 29.75 284.24 30 282.9 30.25 283.36 30.5 282.11 30.75 285.03 31 283.23 31.25 283.04 31.5 283.96 31.75 282.71 32 283.98 32.25 282.55 32.5 283.86 32.75 282.69 33 282.12 33.25 283.08 33.5 282.45 33.75 283.99 34 283.62 34.25 284.01 34.5 283.72 34.75 283.41 35 283.72 35.25 284.48 35.5 283.54 35.75 283.1 36 282.93 36.25 283.48 36.5 283.08 36.75 285.04 37 282.74 37.25 282.8 37.5 283.37 37.75 284.08 38 283.38 38.25 282.85 38.5 282.95 38.75 283.29 39 284.27 39.25 282.8 39.5 283.45 39.75 283.05 40 283.74 40.25 283.79 40.5 282.38 40.75 285.26 41 283.6 41.25 283.07 41.5 282.77 41.75 283.24 42 283.44 42.25 283.86 42.5 283.4 42.75 283.75 43 282.17 43.25 282.81 43.5 282.61 43.75 283.47 44 283.68 44.25 282.23 44.5 283.19 44.75 283.85 45 283.99 45.25 282.43 45.5 283.65 45.75 283.45 46 282.83 46.25 284.59 46.5 282.25 46.75 282.84 47 283.36 47.25 283.16 47.5 282.81 47.75 283.94 48 283.96 48.25 283.52 48.5 283.55 48.75 282.72 49 281.85 49.25 284.33 49.5 281.94 49.75 284.29 50 282.49 50.25 282.72 50.5 282.39 50.75 283.2 51 282.06 51.25 283.79 51.5 282.77 51.75 282.47 52 281.87 52.25 282.08 52.5 281.44 52.75 282.43 53 281.28 53.25 278.98 53.5 280.87 53.75 277.51 54 280.02 54.25 277.02 54.5 278 54.75 277.83 55 276.43 55.25 274.83 55.5 275.79 55.75 272.75 56 272.2 56.25 274.46 56.5 272.9 56.75 273.86 57 274.41 57.25 273.85 57.5 274.26 57.75 274.27 58 274.46 58.25 275.32 58.5 275.25 58.75 274.92 59 275.49 59.25 274.52 59.5 274.48 59.75 274.42 60 275.89 60.25 276.56 60.5 275.45 60.75 273.94 61 275.09 61.25 275.86 61.5 275.78 61.75 275.67 62 276.38 62.25 276.38 62.5 274.72 62.75 276.09 63 275.26 63.25 276.03 63.5 276.83 63.75 277.31 64 276.5 64.25 275.64 64.5 275.8 64.75 276.51 65 275.41 65.25 276.14 65.5 276.69 65.75 276.97 66 276.1 66.25 276.64 66.5 277.43 66.75 276.68 67 275.2 67.25 276.69 67.5 276.76 67.75 276.3 68 276.69 68.25 275.6 68.5 277.68 68.75 277.1 69 276.42 69.25 277.05 69.5 277.01 69.75 276.31 70 275 70.25 274.88 70.5 278.56 70.75 276.22 71 276.86 71.25 277.53 71.5 276.85 71.75 278.03 72 276.45 72.25 277.6 72.5 275.63 72.75 277.76 73 277.76 73.25 277.54 73.5 277.51 73.75 277.5 74 277.97 74.25 278.06 74.5 276.65 74.75 278.17 75 276.69 75.25 277.54 75.5 277.25 75.75 277.82 76 277.23 76.25 277.8 76.5 277.16 76.75 276.82 77 278.36 77.25 278.01 77.5 277.99 77.75 278.34 78 276.85 78.25 278.35 78.5 276.89 78.75 277.99 79 277.59 79.25 277.94 79.5 278.28 79.75 277.8 80 277.11 80.25 278.48 80.5 278.64 80.75 278.25 81 278.5 81.25 276.38 81.5 277.73 81.75 277.57 82 276.17 82.25 277.7 82.5 277.6 82.75 276.45 83 276.93 83.25 277.6 83.5 277.97 83.75 278.03 84 276.65 84.25 276.65 84.5 277.06 84.75 277.38 85 276.97 85.25 277.24 85.5 277.89 85.75 277.85 86 277.42 86.25 276.44 86.5 276.91 86.75 277.68 87 277.89 87.25 278.02 87.5 276.4 87.75 276.83 88 276.25 88.25 274.93 88.5 276.3 88.75 275.77 89 278.13 89.25 277.42 89.5 276.56 89.75 277.07 90 277.31 90.25 278.27 90.5 277.5 90.75 278.02 91 277.2 91.25 277.77 91.5 277.83 91.75 277.4 92 276.69 92.25 277.44 92.5 276.28 92.75 277.61 93 276.29 93.25 275.94 93.5 277.82 93.75 276.06 94 276.45 94.25 275.49 94.5 275.72 94.75 275.94 95 275.41 95.25 277.03 95.5 275.53 95.75 275.09 96 276.82 96.25 276.47 96.5 274.16 96.75 275.43 97 276.56 97.25 275.2 97.5 275.52 97.75 275.51 98 273.95 98.25 274.94 98.5 276.14 98.75 276.61 99 275.42 99.25 275.36 99.5 275.81 99.75 275.48 100 275.7 100.25 274.58 100.5 275.17 100.75 275.45 101 275.44 101.25 273.74 101.5 275.44 101.75 274.83 102 274.78 102.25 273.26 102.5 274.53 102.75 273.24 103 272.45 103.25 274.33 103.5 274.18 103.75 274.14 104 274.15 104.25 273.89 104.5 274.6 104.75 274.25 105 274.74 105.25 275.3 105.5 273.86 105.75 273.75 106 274.46 106.25 272.25 106.5 272.4 106.75 272.38 107 270.56 107.25 271.99 107.5 271.99 107.75 269.4 108 269.27 108.25 269.53" fill="none" stroke="#000000" stroke-width="2.0" stroke-linejoin="round" stroke-linecap="round"/><path d="M108.25 269.53 108.5 269.13 108.75 268.22 109 268.09 109.25 266.8 109.5 265.37 109.75 264.41 110 263.21 110.25 262.14 110.5 260.95 110.75 259.51 111 257.25 111.25 254.98 111.5 252.81 111.75 250.6 112 248.14 112.25 245.37 112.5 242.88 112.75 240.4 113 237.36 113.25 233.64 113.5 229.88 113.75 226.61 114 223.42 114.25 220.39 114.5 217.13 114.75 214.22 115 216.76 115.25 220.22 115.5 224.13 115.75 227.52 116 231.72 116.25 235.88 116.5 239.86 116.75 243.33 117 246.25 117.25 249.27 117.5 251.62 117.75 253.89 118 255.63 118.25 257.94 118.5 259.86 118.75 261.37 119 262.59 119.25 263.99 119.5 265.45 119.75 266.67 120 268.08 120.25 268.65 120.5 269.16 120.75 269.68 121 270.21 121.25 270.85 121.5 271.48 121.75 272.13 122 273.72" fill="none" stroke="#000000" stroke-width="1.0" stroke-linejoin="round" stroke-linecap="round"/><path d="M122 273.72 122.25 272.21 122.5 273.72 122.75 274.34 123 275.35 123.25 275.7 123.5 274.3 123.75 276.05 124 275.03 124.25 276.37 124.5 276.39 124.75 277 125 279.01 125.25 277.79 125.5 278.19 125.75 279.02 126 280.1 126.25 278.16 126.5 280.79 126.75 279.14 127 279.1 127.25 280.08 127.5 280.63 127.75 282.29 128 281.07 128.25 280.09 128.5 280.52 128.75 280.09 129 281.44 129.25 281.7 129.5 280.97 129.75 282.21 130 280.23 130.25 281.17 130.5 280.87 130.75 281.16 131 280.42 131.25 282.4 131.5 281 131.75 281.65 132 282.68 132.25 283.04 132.5 282.75 132.75 280.23 133 281.71 133.25 281.71 133.5 281.5 133.75 281.46 134 281.67 134.25 282.57 134.5 281.82 134.75 281.19 135 281.05 135.25 282.39 135.5 281.02 135.75 282.88 136 282.02 136.25 282.05 136.5 282.64 136.75 282.23 137 283.08 137.25 281.62 137.5 281.25 137.75 284.13 138 282.82 138.25 280.79 138.5 284.05 138.75 281.74 139 284.39 139.25 284.25 139.5 283.59 139.75 282.96 140 282.34 140.25 283.73 140.5 282.73 140.75 283.86 141 282.85 141.25 281.89 141.5 282.56 141.75 283.15 142 282.75 142.25 283.24 142.5 282.46 142.75 284.38 143 282.79 143.25 283.59 143.5 281.95 143.75 283.86 144 284.41 144.25 283.72 144.5 283.09 144.75 282.59 145 283.77 145.25 283.76 145.5 282.36 145.75 283.37 146 283.78 146.25 282.8 146.5 283.86 146.75 283.21 147 284.53 147.25 282.49 147.5 283.86 147.75 283.57 148 282.08 148.25 282.81 148.5 282.88 148.75 284.24 149 283.28 149.25 283.56 149.5 283.69 149.75 285.54 150 283.43 150.25 285.08 150.5 283.5 150.75 282.47 151 283.05 151.25 282.75 151.5 283.42 151.75 282.61 152 283.04 152.25 285.18 152.5 283.94 152.75 284.02 153 285.16 153.25 282.56 153.5 284.24 153.75 283.48 154 283.82 154.25 283.35 154.5 283.97 154.75 284.82 155 284.81 155.25 284.11 155.5 284.55 155.75 283.05 156 281.77 156.25 284.76 156.5 285.53 156.75 284.36 157 283.56 157.25 284.08 157.5 284.97 157.75 283.19 158 284.14 158.25 284.56 158.5 283.34 158.75 285.7 159 284.76 159.25 285.41 159.5 283.36 159.75 284.35 160 285.36 160.25 284.53 160.5 285.13 160.75 282.78 161 284.09 161.25 282.64 161.5 283.76 161.75 284.34 162 284.03 162.25 283.15 162.5 284.31 162.75 284.57 163 283.99 163.25 284.66 163.5 284.9 163.75 284.96 164 283.76 164.25 284.39 164.5 283.51 164.75 283.91 165 284.77 165.25 283.88 165.5 283.6 165.75 283.49 166 284.31 166.25 285.12 166.5 284.59 166.75 283.72 167 284.48 167.25 284.58 167.5 284.95 167.75 283.33 168 284.31 168.25 283.51 168.5 283.4 168.75 284.73 169 284.19 169.25 283.83 169.5 284.78 169.75 283.87 170 283.07 170.25 284.4 170.5 283.02 170.75 283.05 171 283.37 171.25 283.56 171.5 284.34 171.75 283.39 172 282.28 172.25 283.2 172.5 283.85 172.75 283.51 173 283.5 173.25 282.67 173.5 283.28 173.75 283.99 174 283.99 174.25 282.91 174.5 282.98 174.75 282.78 175 284.2 175.25 282.91 175.5 283.25 175.75 282.81 176 282.72 176.25 283.28 176.5 284.02 176.75 282.89 177 284.18 177.25 283.23 177.5 283.79 177.75 285.08 178 284.9 178.25 283.39 178.5 283.21 178.75 283.01 179 283.63 179.25 281.67 179.5 282.52 179.75 282.92 180 282.43 180.25 282.29 180.5 284.03 180.75 282 181 282.8 181.25 282.72 181.5 282.83 181.75 282.43 182 283.81 182.25 283.18 182.5 284.61 182.75 282.31 183 283.45 183.25 282.43 183.5 283.59 183.75 284.33 184 282.62 184.25 284.25 184.5 282.93 184.75 282.71 185 283.84 185.25 284.18 185.5 283.73 185.75 283.88 186 283.64 186.25 283.3 186.5 282.09 186.75 283.44 187 283.21 187.25 284.16 187.5 283.15 187.75 285.29 188 284.27 188.25 283.5 188.5 284.33 188.75 283.66 189 284.83 189.25 283.57 189.5 284.98 189.75 283.12 190 284.02 190.25 283.9 190.5 283.3 190.75 283.75 191 284.01 191.25 283.13 191.5 283.4 191.75 284.42 192 283.49 192.25 285.28 192.5 285.29 192.75 283.77 193 284.41 193.25 284.55 193.5 284.71 193.75 283.79 194 284.76 194.25 283.82 194.5 284.16 194.75 285.19 195 284.21 195.25 283.56 195.5 283.87 195.75 284.56 196 283.76 196.25 283.62 196.5 284.48 196.75 283.68 197 285.98 197.25 283.92 197.5 284.95 197.75 283.35 198 284.22 198.25 285.1 198.5 284.9 198.75 285 199 284.1 199.25 284.7 199.5 284.42 199.75 283.53 200 285.46 200.25 284.1 200.5 284.45 200.75 285.28 201 285.14 201.25 286.6 201.5 284.61 201.75 285.75 202 284.6 202.25 284.72 202.5 285.51 202.75 285.21 203 284.35 203.25 284.67 203.5 284.88 203.75 286.02 204 284.2 204.25 284.95 204.5 285.24 204.75 284.9 205 284.43 205.25 285.44 205.5 284.13 205.75 286.29 206 282.88 206.25 283.4 206.5 284.99 206.75 285.36 207 285.24 207.25 284.46 207.5 284.8 207.75 284.94 208 284.27 208.25 284.66 208.5 284.24 208.75 285.83 209 285.28 209.25 284.66 209.5 284.71 209.75 284.66 210 284.77 210.25 285.22 210.5 284.76 210.75 284.66 211 285.34 211.25 284.94 211.5 285.07 211.75 285.14 212 284.95 212.25 284.26 212.5 284.93 212.75 286.02 213 284.49 213.25 284.52 213.5 284.83 213.75 284.87 214 286.21 214.25 284.95 214.5 286.06 214.75 285.8 215 285.75 215.25 285.7 215.5 285.5 215.75 285.63 216 286.16 216.25 283.73 216.5 285.54 216.75 286.16 217 284.8 217.25 285.27 217.5 285.95 217.75 284 218 285.55 218.25 284.51 218.5 285.52 218.75 285.63 219 285.55 219.25 284.61 219.5 285.39 219.75 284.92 220 285.63 220.25 285.11 220.5 284.75 220.75 286.08 221 284.45 221.25 284.98 221.5 286.17 221.75 285.62 222 285.99 222.25 284.58 222.5 285.45 222.75 284.65 223 283.97 223.25 285.73 223.5 284.51 223.75 285.36 224 284.55 224.25 285.67 224.5 285.68 224.75 284.48 225 284.47 225.25 283.23 225.5 284.86 225.75 285.02 226 284.64 226.25 285.71 226.5 285.11 226.75 285.17 227 284.69 227.25 284.02 227.5 285.18 227.75 285.77 228 286.04 228.25 285.25 228.5 284.16 228.75 284.85 229 285.21 229.25 284.25 229.5 284.79 229.75 284.58 230 284.45 230.25 284.28 230.5 285.27 230.75 285.44 231 285.95 231.25 284.82 231.5 285.06 231.75 283.7 232 285.2 232.25 286.06 232.5 284.48 232.75 285.48 233 284.75 233.25 285.57 233.5 285.76 233.75 284.17 234 284.62 234.25 284.77 234.5 285.21 234.75 286.39 235 285.47 235.25 285.58 235.5 285.66 235.75 285.07 236 286.41 236.25 286.02 236.5 286.26 236.75 285.9 237 284.71 237.25 286.18 237.5 285.35 237.75 285.17 238 287.92 238.25 286.62 238.5 285.66 238.75 286.63 239 286.88 239.25 286.25 239.5 285.82 239.75 286.9 240 286.77" fill="none" stroke="#000000" stroke-width="2.0" stroke-linejoin="round" stroke-linecap="round"/><path d="M240 286.77 240.25 286.74 240.5 284.98 240.75 286.59 241 287.83 241.25 285.48 241.5 286.01 241.75 285.74 242 285.97 242.25 286.26 242.5 287.92 242.75 286.19 243 287.65 243.25 285.74 243.5 286.95 243.75 286.46 244 286.2 244.25 286.75 244.5 287.57 244.75 286.88 245 287.1 245.25 286.69 245.5 287.01 245.75 286.98 246 287.31 246.25 286.62 246.5 286.28 246.75 286.4 247 286.4 247.25 287.2 247.5 286.21 247.75 287.38 248 287.04 248.25 287.83 248.5 287.06 248.75 287.73 249 287.27 249.25 287.1 249.5 286.75 249.75 287.36 250 287.09 250.25 286.57 250.5 286.69 250.75 285.62 251 287.99 251.25 287.99 251.5 286.79 251.75 286.22 252 287.7 252.25 288.06 252.5 287.22 252.75 286.76 253 288.24 253.25 287.98 253.5 288.1 253.75 288.4 254 287.35 254.25 287.52 254.5 288.4 254.75 288.08 255 288.4 255.25 285.52 255.5 286.35 255.75 287.96 256 287.89 256.25 286.7 256.5 286.87 256.75 286.93 257 288.09 257.25 286.55 257.5 287.53 257.75 287.08 258 285.41 258.25 287.9 258.5 288.4 258.75 287.58 259 288.33 259.25 287.81 259.5 287.65 259.75 286.56 260 287.7 260.25 286.32 260.5 287.37 260.75 287.94 261 287.96 261.25 287.22 261.5 287.72 261.75 287.05 262 288.4 262.25 286.97 262.5 288.4 262.75 288.4 263 287.81 263.25 288.4 263.5 287.18 263.75 288.4 264 287.41 264.25 287.93 264.5 287.48 264.75 287.31 265 287.45 265.25 288.03 265.5 287.66 265.75 288.4 266 287.95 266.25 285.87 266.5 287.32 266.75 287.66 267 288.09 267.25 288.31 267.5 286.87 267.75 288 268 287.2 268.25 287.9 268.5 287.62 268.75 288.4 269 288.4 269.25 288.4 269.5 287.24 269.75 287.44 270 287.85 270.25 287.4 270.5 287.35 270.75 288.21 271 288.4 271.25 288.07 271.5 288.4 271.75 286.75 272 288.4 272.25 288.4 272.5 287.96 272.75 287.45 273 288.29 273.25 286.58 273.5 288.06 273.75 286.51 274 288.4 274.25 287.81 274.5 287.27 274.75 286.26 275 288.4 275.25 287.92 275.5 287.44 275.75 288.4 276 286.84 276.25 288.4 276.5 288.4 276.75 287.67 277 288.4 277.25 288.4 277.5 287.33 277.75 287.37 278 288.4 278.25 288.4 278.5 287.32 278.75 285.56 279 286.75 279.25 288.4 279.5 287.53 279.75 287.2 280 288.19 280.25 286.59 280.5 288.4 280.75 286.45 281 287.76 281.25 288.2 281.5 288.37 281.75 287.08 282 287.65 282.25 288.4 282.5 288.01 282.75 288.4 283 288.03 283.25 288.06 283.5 287.27 283.75 287.03 284 287.71 284.25 287.07 284.5 288.4 284.75 288.4 285 288.4 285.25 286.8 285.5 286.94 285.75 288.4 286 288.04 286.25 288.09 286.5 288.4 286.75 287.16 287 286.96 287.25 287.27 287.5 288.4 287.75 287.87 288 287.32 288.25 288.4 288.5 288.4 288.75 288.4 289 288.37 289.25 287.75 289.5 288.4 289.75 288.4 290 287.02 290.25 287.06 290.5 287.42 290.75 288.4 291 287.45 291.25 287.71 291.5 287.57 291.75 287.97 292 288.4 292.25 287.59 292.5 287.93 292.75 288.4 293 286.77 293.25 288.16 293.5 288.07 293.75 287.87 294 288.4 294.25 288.4 294.5 287.94 294.75 287.9 295 288.4 295.25 287.06 295.5 287.67 295.75 288.17 296 288.1 296.25 287.39 296.5 288.4 296.75 287.09 297 287.42 297.25 287.19 297.5 288.23 297.75 288.4 298 287.87 298.25 288.4 298.5 287.63 298.75 288.01 299 288.11 299.25 287.92 299.5 288.08 299.75 287.18 300 286.38 300.25 287.54 300.5 287.66 300.75 287.77 301 287.17 301.25 287.01 301.5 288.4 301.75 288.4 302 288.2 302.25 288.07 302.5 287.47 302.75 287.84 303 288.4 303.25 288.4 303.5 287.52 303.75 287.58 304 287.56 304.25 287.42 304.5 288.4 304.75 288.4 305 288.19 305.25 287.5 305.5 288.4 305.75 287.97 306 286.08 306.25 288.4 306.5 288.12 306.75 287.51 307 288.4 307.25 286.2 307.5 287.46 307.75 288.4 308 287.41 308.25 288.4 308.5 288.4 308.75 288.17 309 288.12 309.25 288.4 309.5 288.4 309.75 287.18 310 287.77 310.25 287.31 310.5 288.4 310.75 288.1 311 288.4 311.25 288.16 311.5 287.39 311.75 287.13 312 288.4 312.25 288.4 312.5 287.34 312.75 286.86 313 286.79 313.25 288.4 313.5 287.69 313.75 288.4 314 287.66 314.25 287.75 314.5 287.79 314.75 288.4 315 288.4 315.25 287.27 315.5 288.4 315.75 288.4 316 287.87 316.25 287.7 316.5 288.4 316.75 287.54 317 287.79 317.25 287.29 317.5 287.61 317.75 288.2 318 288.28 318.25 287.83 318.5 288.07 318.75 287.02 319 288.4 319.25 287.18 319.5 288.38 319.75 287.39 320 287.99 320.25 286.46 320.5 287.46 320.75 287.05 321 288.22 321.25 288.04 321.5 287.28 321.75 287.23 322 288.27 322.25 287.59 322.5 288.4 322.75 288.18 323 287.61 323.25 287.75 323.5 286.57 323.75 287.94 324 287.78 324.25 287.94 324.5 288.4 324.75 288.07 325 287.97 325.25 287.96 325.5 287.65 325.75 288.4 326 287.94 326.25 288.4 326.5 288.4 326.75 287.42 327 288.13 327.25 288.4 327.5 287.7 327.75 288.04 328 287.81 328.25 287.83 328.5 288.4 328.75 287.37 329 287.74 329.25 288.1 329.5 286.01 329.75 287.74 330 288.05 330.25 288.26 330.5 287.49 330.75 287.27 331 288.4 331.25 287.46 331.5 288.3 331.75 288.03 332 287.41 332.25 287.62 332.5 287.38 332.75 288.4 333 288.11 333.25 286.68 333.5 288.4 333.75 288.4 334 288.4 334.25 287.29 334.5 287.6 334.75 287.54 335 288.4 335.25 288.05 335.5 288.2 335.75 287.81 336 286.95 336.25 288.4 336.5 288.4 336.75 287.78 337 287.32 337.25 287.49 337.5 287.52 337.75 286.89 338 287.6 338.25 287.74 338.5 286.86 338.75 288.31 339 287.65 339.25 287.12 339.5 288.01 339.75 288.4 340 288.4 340.25 288.4 340.5 288.4 340.75 288.4 341 288.4 341.25 288.4 341.5 288.4 341.75 287.73 342 288.4 342.25 286.99 342.5 288.4 342.75 288.4 343 287.76 343.25 288.4 343.5 287.31 343.75 288.4 344 287.84 344.25 288.31 344.5 287.74 344.75 288.4 345 287.9 345.25 288.4 345.5 288.04 345.75 288.22 346 287.84 346.25 288.35 346.5 287.68 346.75 287.85 347 286.99 347.25 287.68 347.5 287.73 347.75 287.91 348 288.06 348.25 286.87 348.5 288.4 348.75 288.4 349 288.05 349.25 286.56 349.5 288.4 349.75 288.03 350 287.87 350.25 288.14 350.5 288.04 350.75 287.87 351 288.4 351.25 288.23 351.5 287.8 351.75 288.4 352 288.4 352.25 288.4 352.5 287.31 352.75 288.09 353 288.4 353.25 288.17 353.5 287.97 353.75 288.4 354 288.32 354.25 288.4 354.5 286.94 354.75 287 355 287.69 355.25 288.2 355.5 288.4 355.75 287.48 356 288.4 356.25 288.2 356.5 287.71 356.75 288.4 357 288.4 357.25 288.12 357.5 288.1 357.75 288.28 358 288.4 358.25 287.9 358.5 288.04 358.75 288.19 359 287.96 359.25 288.33 359.5 287.54 359.75 286.6 360 287.67 360.25 287.77 360.5 288.4 360.75 288.4 361 288.34 361.25 287.68 361.5 287.16 361.75 287.54 362 288.4 362.25 287.93 362.5 287.26 362.75 288.17 363 287.52 363.25 288.35" fill="none" stroke="#000000" stroke-width="1.5" stroke-linejoin="round" stroke-linecap="round"/><path d="M348.6 304.8L436.5 213.7" fill="none" stroke="#222" stroke-width="1.05"/><path d="M436.5 213.5h20.5M436.5 197.5h10.5M436.5 181.5h20.5M436.5 165.5h10.5M436.5 149.5h20.5M436.5 132.5h10.5M436.5 116.5h20.5M436.5 100.5h10.5M436.5 84.5h20.5M436.5 68.5h10.5M436.5 52.5h20.5M436.5 35.5h10.5M436.5 19.5h20.5" fill="none" stroke="#1e1e1e" stroke-width="1.15"/><path d="M422.22 228.5h21M407.65 243.6h10.5M392.31 259.5h21M377.84 274.5h10.5M362.98 289.9h21M348.6 304.8h10.5" fill="none" stroke="#2a2a2a" stroke-width="1.1"/><path d="M10.4 304.8H348.9M30.29 304.8l-5.57 5.77M50.19 304.8l-2.93 3.04M70.08 304.8l-5.57 5.77M89.98 304.8l-2.93 3.04M109.87 304.8l-5.57 5.77M129.76 304.8l-2.93 3.04M149.66 304.8l-5.57 5.77M169.55 304.8l-2.93 3.04M189.45 304.8l-5.57 5.77M209.34 304.8l-2.93 3.04M229.24 304.8l-5.57 5.77M249.13 304.8l-2.93 3.04M269.02 304.8l-5.57 5.77M288.92 304.8l-2.93 3.04M308.81 304.8l-5.57 5.77M328.71 304.8l-2.93 3.04" fill="none" stroke="#262626" stroke-width="1.3"/><g font-family="Liberation Sans, Arial, sans-serif"><text x="465" y="212.2" font-size="11.5" fill="#202020" stroke="#202020" stroke-width="0.2">0</text><text x="465" y="179.77" font-size="11.5" fill="#202020" stroke="#202020" stroke-width="0.2">500</text><text x="465" y="147.34" font-size="11.5" fill="#202020" stroke="#202020" stroke-width="0.2">1000</text><text x="465" y="114.91" font-size="11.5" fill="#202020" stroke="#202020" stroke-width="0.2">1500</text><text x="465" y="82.48" font-size="11.5" fill="#202020" stroke="#202020" stroke-width="0.2">2000</text><text x="465" y="50.05" font-size="11.5" fill="#202020" stroke="#202020" stroke-width="0.2">2500</text><text x="465" y="17.62" font-size="11.5" fill="#202020" stroke="#202020" stroke-width="0.2">3000</text><text x="13.19" y="326.3" font-size="11.3" fill="#202020" stroke="#202020" stroke-width="0.2" text-anchor="middle">10</text><text x="52.98" y="326.3" font-size="11.3" fill="#202020" stroke="#202020" stroke-width="0.2" text-anchor="middle">20</text><text x="92.77" y="326.3" font-size="11.3" fill="#202020" stroke="#202020" stroke-width="0.2" text-anchor="middle">30</text><text x="132.56" y="326.3" font-size="11.3" fill="#202020" stroke="#202020" stroke-width="0.2" text-anchor="middle">40</text><text x="172.35" y="326.3" font-size="11.3" fill="#202020" stroke="#202020" stroke-width="0.2" text-anchor="middle">50</text><text x="212.14" y="326.3" font-size="11.3" fill="#202020" stroke="#202020" stroke-width="0.2" text-anchor="middle">60</text><text x="251.92" y="326.3" font-size="11.3" fill="#202020" stroke="#202020" stroke-width="0.2" text-anchor="middle">70</text><text x="291.71" y="326.3" font-size="11.3" fill="#202020" stroke="#202020" stroke-width="0.2" text-anchor="middle">80</text><text x="140.6" y="346.8" font-size="14.5" fill="#202020" stroke="#202020" stroke-width="0.2">2θ (deg)</text><text transform="translate(531.2 90.2) rotate(-90) scale(1.085 1)" font-size="13.4" letter-spacing="0.1" fill="#262626" stroke="#262626" stroke-width="0.12" text-anchor="middle">Intensity (Counts)</text><text x="452" y="231" font-size="14.3" fill="#0000ff" stroke="#0000ff" stroke-width="0.1">GrO</text><text x="418.6" y="264.9" font-size="14.2" fill="#ff0000" stroke="#ff0000" stroke-width="0.1">g-C<tspan font-size="8" dy="5.9" dx="0.3">3</tspan><tspan dy="-5.9" dx="1.2">N</tspan><tspan font-size="8" dy="5.9" dx="1.6">4</tspan></text><text x="388.8" y="299.2" font-size="14.5" fill="#202020" stroke="#202020" stroke-width="0.2">optmized rGO/g-C<tspan font-size="7.5" dy="5.5" dx="0.3">3</tspan><tspan dy="-5.5" dx="-0.7">N</tspan><tspan font-size="7.5" dy="5.5" dx="1">4</tspan></text><text x="99.3" y="21.6" font-size="14" letter-spacing="0.35" fill="#0000ff" stroke="#0000ff" stroke-width="0.1">1 0 0</text><text x="129.4" y="187.6" font-size="14" letter-spacing="0.2" fill="#ff0000" stroke="#ff0000" stroke-width="0.1">0 0 2</text><text x="70" y="231.2" font-size="14" letter-spacing="0.3" fill="#ff0000" stroke="#ff0000" stroke-width="0.1">1 0 0</text><text x="192.6" y="249.6" font-size="14.4" letter-spacing="0.6" fill="#ff0000" stroke="#ff0000" stroke-width="0.1">2 0 0</text><text x="237.7" y="249.6" font-size="14.4" letter-spacing="0.1" fill="#ff0000" stroke="#ff0000" stroke-width="0.1">0 0 4</text></g></svg></body></html>
